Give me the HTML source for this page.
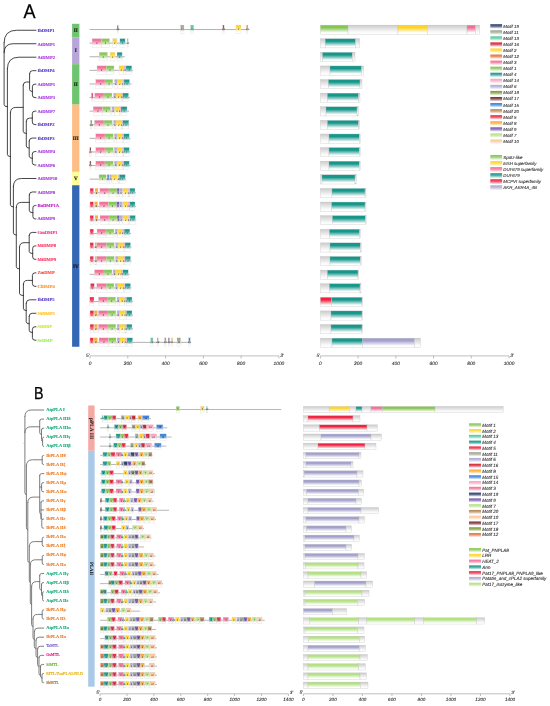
<!DOCTYPE html>
<html lang="en">
<head>
<meta charset="utf-8">
<title>Figure: phylogeny, motifs and conserved domains</title>
<style>
html,body{margin:0;padding:0;background:#ffffff;}
body{width:550px;height:706px;overflow:hidden;font-family:"Liberation Sans",sans-serif;}
svg{display:block;text-rendering:geometricPrecision;}
.b{stroke:#d4d4d4;stroke-width:0.3;}
.n{font:italic 2.7px "Liberation Sans",sans-serif;fill:#222;text-anchor:middle;}
.nb{font:italic 2.2px "Liberation Sans",sans-serif;fill:#111;text-anchor:middle;}
.ax text{font-family:"Liberation Sans",sans-serif;font-style:italic;fill:#222;stroke:#222;stroke-width:0.08px;}
</style>
</head>
<body>
<svg width="550" height="706" viewBox="0 0 550 706">
<defs>
<linearGradient id="m1" x1="0" y1="0" x2="0" y2="1"><stop offset="0" stop-color="#86c653"/><stop offset="0.22" stop-color="#8bc85a"/><stop offset="0.55" stop-color="#c9e5b2"/><stop offset="0.78" stop-color="#ffffff"/><stop offset="1" stop-color="#ffffff"/></linearGradient>
<linearGradient id="n1" x1="0" y1="0" x2="0" y2="1"><stop offset="0" stop-color="#86c653"/><stop offset="0.3" stop-color="#90cb61"/><stop offset="0.6" stop-color="#c2e2a9"/><stop offset="0.8" stop-color="#ffffff"/><stop offset="1" stop-color="#ffffff"/></linearGradient>
<linearGradient id="l1" x1="0" y1="0" x2="0" y2="1"><stop offset="0" stop-color="#86c653"/><stop offset="0.45" stop-color="#a4d47e"/><stop offset="1" stop-color="#ffffff"/></linearGradient>
<linearGradient id="m2" x1="0" y1="0" x2="0" y2="1"><stop offset="0" stop-color="#ffd426"/><stop offset="0.22" stop-color="#ffd62f"/><stop offset="0.55" stop-color="#ffec9d"/><stop offset="0.78" stop-color="#ffffff"/><stop offset="1" stop-color="#ffffff"/></linearGradient>
<linearGradient id="n2" x1="0" y1="0" x2="0" y2="1"><stop offset="0" stop-color="#ffd426"/><stop offset="0.3" stop-color="#ffd737"/><stop offset="0.6" stop-color="#ffea92"/><stop offset="0.8" stop-color="#ffffff"/><stop offset="1" stop-color="#ffffff"/></linearGradient>
<linearGradient id="l2" x1="0" y1="0" x2="0" y2="1"><stop offset="0" stop-color="#ffd426"/><stop offset="0.45" stop-color="#ffdf5c"/><stop offset="1" stop-color="#ffffff"/></linearGradient>
<linearGradient id="m3" x1="0" y1="0" x2="0" y2="1"><stop offset="0" stop-color="#f26f97"/><stop offset="0.22" stop-color="#f3759b"/><stop offset="0.55" stop-color="#f9bed0"/><stop offset="0.78" stop-color="#ffffff"/><stop offset="1" stop-color="#ffffff"/></linearGradient>
<linearGradient id="n3" x1="0" y1="0" x2="0" y2="1"><stop offset="0" stop-color="#f26f97"/><stop offset="0.3" stop-color="#f37b9f"/><stop offset="0.6" stop-color="#f8b7cb"/><stop offset="0.8" stop-color="#ffffff"/><stop offset="1" stop-color="#ffffff"/></linearGradient>
<linearGradient id="l3" x1="0" y1="0" x2="0" y2="1"><stop offset="0" stop-color="#f26f97"/><stop offset="0.45" stop-color="#f593b1"/><stop offset="1" stop-color="#ffffff"/></linearGradient>
<linearGradient id="m4" x1="0" y1="0" x2="0" y2="1"><stop offset="0" stop-color="#17968a"/><stop offset="0.22" stop-color="#209a8f"/><stop offset="0.55" stop-color="#97d0ca"/><stop offset="0.78" stop-color="#ffffff"/><stop offset="1" stop-color="#ffffff"/></linearGradient>
<linearGradient id="n4" x1="0" y1="0" x2="0" y2="1"><stop offset="0" stop-color="#17968a"/><stop offset="0.3" stop-color="#2a9e93"/><stop offset="0.6" stop-color="#8bcac4"/><stop offset="0.8" stop-color="#ffffff"/><stop offset="1" stop-color="#ffffff"/></linearGradient>
<linearGradient id="l4" x1="0" y1="0" x2="0" y2="1"><stop offset="0" stop-color="#17968a"/><stop offset="0.45" stop-color="#51b0a7"/><stop offset="1" stop-color="#ffffff"/></linearGradient>
<linearGradient id="m5" x1="0" y1="0" x2="0" y2="1"><stop offset="0" stop-color="#ee2440"/><stop offset="0.22" stop-color="#ef2d48"/><stop offset="0.55" stop-color="#f79ca9"/><stop offset="0.78" stop-color="#ffffff"/><stop offset="1" stop-color="#ffffff"/></linearGradient>
<linearGradient id="n5" x1="0" y1="0" x2="0" y2="1"><stop offset="0" stop-color="#ee2440"/><stop offset="0.3" stop-color="#ef364f"/><stop offset="0.6" stop-color="#f692a0"/><stop offset="0.8" stop-color="#ffffff"/><stop offset="1" stop-color="#ffffff"/></linearGradient>
<linearGradient id="l5" x1="0" y1="0" x2="0" y2="1"><stop offset="0" stop-color="#ee2440"/><stop offset="0.45" stop-color="#f25b70"/><stop offset="1" stop-color="#ffffff"/></linearGradient>
<linearGradient id="m6" x1="0" y1="0" x2="0" y2="1"><stop offset="0" stop-color="#aeaad2"/><stop offset="0.22" stop-color="#b1add4"/><stop offset="0.55" stop-color="#dbd9eb"/><stop offset="0.78" stop-color="#ffffff"/><stop offset="1" stop-color="#ffffff"/></linearGradient>
<linearGradient id="n6" x1="0" y1="0" x2="0" y2="1"><stop offset="0" stop-color="#aeaad2"/><stop offset="0.3" stop-color="#b4b1d6"/><stop offset="0.6" stop-color="#d6d4e8"/><stop offset="0.8" stop-color="#ffffff"/><stop offset="1" stop-color="#ffffff"/></linearGradient>
<linearGradient id="l6" x1="0" y1="0" x2="0" y2="1"><stop offset="0" stop-color="#aeaad2"/><stop offset="0.45" stop-color="#c2bfdd"/><stop offset="1" stop-color="#ffffff"/></linearGradient>
<linearGradient id="m7" x1="0" y1="0" x2="0" y2="1"><stop offset="0" stop-color="#b4e184"/><stop offset="0.22" stop-color="#b7e289"/><stop offset="0.55" stop-color="#ddf2c8"/><stop offset="0.78" stop-color="#ffffff"/><stop offset="1" stop-color="#ffffff"/></linearGradient>
<linearGradient id="n7" x1="0" y1="0" x2="0" y2="1"><stop offset="0" stop-color="#b4e184"/><stop offset="0.3" stop-color="#bae38e"/><stop offset="0.6" stop-color="#daf0c2"/><stop offset="0.8" stop-color="#ffffff"/><stop offset="1" stop-color="#ffffff"/></linearGradient>
<linearGradient id="l7" x1="0" y1="0" x2="0" y2="1"><stop offset="0" stop-color="#b4e184"/><stop offset="0.45" stop-color="#c7e8a3"/><stop offset="1" stop-color="#ffffff"/></linearGradient>
<linearGradient id="m8" x1="0" y1="0" x2="0" y2="1"><stop offset="0" stop-color="#fba930"/><stop offset="0.22" stop-color="#fbac38"/><stop offset="0.55" stop-color="#fdd8a2"/><stop offset="0.78" stop-color="#ffffff"/><stop offset="1" stop-color="#ffffff"/></linearGradient>
<linearGradient id="n8" x1="0" y1="0" x2="0" y2="1"><stop offset="0" stop-color="#fba930"/><stop offset="0.3" stop-color="#fbb041"/><stop offset="0.6" stop-color="#fdd498"/><stop offset="0.8" stop-color="#ffffff"/><stop offset="1" stop-color="#ffffff"/></linearGradient>
<linearGradient id="l8" x1="0" y1="0" x2="0" y2="1"><stop offset="0" stop-color="#fba930"/><stop offset="0.45" stop-color="#fcbe64"/><stop offset="1" stop-color="#ffffff"/></linearGradient>
<linearGradient id="m9" x1="0" y1="0" x2="0" y2="1"><stop offset="0" stop-color="#7557b3"/><stop offset="0.22" stop-color="#7b5eb6"/><stop offset="0.55" stop-color="#c1b3dd"/><stop offset="0.78" stop-color="#ffffff"/><stop offset="1" stop-color="#ffffff"/></linearGradient>
<linearGradient id="n9" x1="0" y1="0" x2="0" y2="1"><stop offset="0" stop-color="#7557b3"/><stop offset="0.3" stop-color="#8064b9"/><stop offset="0.6" stop-color="#baabd9"/><stop offset="0.8" stop-color="#ffffff"/><stop offset="1" stop-color="#ffffff"/></linearGradient>
<linearGradient id="l9" x1="0" y1="0" x2="0" y2="1"><stop offset="0" stop-color="#7557b3"/><stop offset="0.45" stop-color="#9881c6"/><stop offset="1" stop-color="#ffffff"/></linearGradient>
<linearGradient id="m10" x1="0" y1="0" x2="0" y2="1"><stop offset="0" stop-color="#fdc59a"/><stop offset="0.22" stop-color="#fdc79e"/><stop offset="0.55" stop-color="#fee5d2"/><stop offset="0.78" stop-color="#ffffff"/><stop offset="1" stop-color="#ffffff"/></linearGradient>
<linearGradient id="n10" x1="0" y1="0" x2="0" y2="1"><stop offset="0" stop-color="#fdc59a"/><stop offset="0.3" stop-color="#fdcaa2"/><stop offset="0.6" stop-color="#fee2cc"/><stop offset="0.8" stop-color="#ffffff"/><stop offset="1" stop-color="#ffffff"/></linearGradient>
<linearGradient id="l10" x1="0" y1="0" x2="0" y2="1"><stop offset="0" stop-color="#fdc59a"/><stop offset="0.45" stop-color="#fed4b3"/><stop offset="1" stop-color="#ffffff"/></linearGradient>
<linearGradient id="m11" x1="0" y1="0" x2="0" y2="1"><stop offset="0" stop-color="#9ba58c"/><stop offset="0.22" stop-color="#9fa991"/><stop offset="0.55" stop-color="#d2d6cb"/><stop offset="0.78" stop-color="#ffffff"/><stop offset="1" stop-color="#ffffff"/></linearGradient>
<linearGradient id="n11" x1="0" y1="0" x2="0" y2="1"><stop offset="0" stop-color="#9ba58c"/><stop offset="0.3" stop-color="#a3ac95"/><stop offset="0.6" stop-color="#cdd2c6"/><stop offset="0.8" stop-color="#ffffff"/><stop offset="1" stop-color="#ffffff"/></linearGradient>
<linearGradient id="l11" x1="0" y1="0" x2="0" y2="1"><stop offset="0" stop-color="#9ba58c"/><stop offset="0.45" stop-color="#b4bca9"/><stop offset="1" stop-color="#ffffff"/></linearGradient>
<linearGradient id="m12" x1="0" y1="0" x2="0" y2="1"><stop offset="0" stop-color="#df7440"/><stop offset="0.22" stop-color="#e07a48"/><stop offset="0.55" stop-color="#f1c0a9"/><stop offset="0.78" stop-color="#ffffff"/><stop offset="1" stop-color="#ffffff"/></linearGradient>
<linearGradient id="n12" x1="0" y1="0" x2="0" y2="1"><stop offset="0" stop-color="#df7440"/><stop offset="0.3" stop-color="#e27f4f"/><stop offset="0.6" stop-color="#efbaa0"/><stop offset="0.8" stop-color="#ffffff"/><stop offset="1" stop-color="#ffffff"/></linearGradient>
<linearGradient id="l12" x1="0" y1="0" x2="0" y2="1"><stop offset="0" stop-color="#df7440"/><stop offset="0.45" stop-color="#e79770"/><stop offset="1" stop-color="#ffffff"/></linearGradient>
<linearGradient id="m13" x1="0" y1="0" x2="0" y2="1"><stop offset="0" stop-color="#55c79c"/><stop offset="0.22" stop-color="#5cc9a0"/><stop offset="0.55" stop-color="#b2e6d2"/><stop offset="0.78" stop-color="#ffffff"/><stop offset="1" stop-color="#ffffff"/></linearGradient>
<linearGradient id="n13" x1="0" y1="0" x2="0" y2="1"><stop offset="0" stop-color="#55c79c"/><stop offset="0.3" stop-color="#63cba4"/><stop offset="0.6" stop-color="#aae3ce"/><stop offset="0.8" stop-color="#ffffff"/><stop offset="1" stop-color="#ffffff"/></linearGradient>
<linearGradient id="l13" x1="0" y1="0" x2="0" y2="1"><stop offset="0" stop-color="#55c79c"/><stop offset="0.45" stop-color="#80d5b5"/><stop offset="1" stop-color="#ffffff"/></linearGradient>
<linearGradient id="m14" x1="0" y1="0" x2="0" y2="1"><stop offset="0" stop-color="#f8a3bd"/><stop offset="0.22" stop-color="#f8a7c0"/><stop offset="0.55" stop-color="#fcd6e1"/><stop offset="0.78" stop-color="#ffffff"/><stop offset="1" stop-color="#ffffff"/></linearGradient>
<linearGradient id="n14" x1="0" y1="0" x2="0" y2="1"><stop offset="0" stop-color="#f8a3bd"/><stop offset="0.3" stop-color="#f9aac2"/><stop offset="0.6" stop-color="#fcd1de"/><stop offset="0.8" stop-color="#ffffff"/><stop offset="1" stop-color="#ffffff"/></linearGradient>
<linearGradient id="l14" x1="0" y1="0" x2="0" y2="1"><stop offset="0" stop-color="#f8a3bd"/><stop offset="0.45" stop-color="#fabace"/><stop offset="1" stop-color="#ffffff"/></linearGradient>
<linearGradient id="m15" x1="0" y1="0" x2="0" y2="1"><stop offset="0" stop-color="#3580dc"/><stop offset="0.22" stop-color="#3d85dd"/><stop offset="0.55" stop-color="#a4c6ef"/><stop offset="0.78" stop-color="#ffffff"/><stop offset="1" stop-color="#ffffff"/></linearGradient>
<linearGradient id="n15" x1="0" y1="0" x2="0" y2="1"><stop offset="0" stop-color="#3580dc"/><stop offset="0.3" stop-color="#458adf"/><stop offset="0.6" stop-color="#9ac0ee"/><stop offset="0.8" stop-color="#ffffff"/><stop offset="1" stop-color="#ffffff"/></linearGradient>
<linearGradient id="l15" x1="0" y1="0" x2="0" y2="1"><stop offset="0" stop-color="#3580dc"/><stop offset="0.45" stop-color="#68a0e5"/><stop offset="1" stop-color="#ffffff"/></linearGradient>
<linearGradient id="m16" x1="0" y1="0" x2="0" y2="1"><stop offset="0" stop-color="#d4202f"/><stop offset="0.22" stop-color="#d62937"/><stop offset="0.55" stop-color="#ec9ba1"/><stop offset="0.78" stop-color="#ffffff"/><stop offset="1" stop-color="#ffffff"/></linearGradient>
<linearGradient id="n16" x1="0" y1="0" x2="0" y2="1"><stop offset="0" stop-color="#d4202f"/><stop offset="0.3" stop-color="#d73240"/><stop offset="0.6" stop-color="#ea9097"/><stop offset="0.8" stop-color="#ffffff"/><stop offset="1" stop-color="#ffffff"/></linearGradient>
<linearGradient id="l16" x1="0" y1="0" x2="0" y2="1"><stop offset="0" stop-color="#d4202f"/><stop offset="0.45" stop-color="#df5863"/><stop offset="1" stop-color="#ffffff"/></linearGradient>
<linearGradient id="m17" x1="0" y1="0" x2="0" y2="1"><stop offset="0" stop-color="#742c2c"/><stop offset="0.22" stop-color="#7a3434"/><stop offset="0.55" stop-color="#c0a0a0"/><stop offset="0.78" stop-color="#ffffff"/><stop offset="1" stop-color="#ffffff"/></linearGradient>
<linearGradient id="n17" x1="0" y1="0" x2="0" y2="1"><stop offset="0" stop-color="#742c2c"/><stop offset="0.3" stop-color="#7f3d3d"/><stop offset="0.6" stop-color="#ba9696"/><stop offset="0.8" stop-color="#ffffff"/><stop offset="1" stop-color="#ffffff"/></linearGradient>
<linearGradient id="l17" x1="0" y1="0" x2="0" y2="1"><stop offset="0" stop-color="#742c2c"/><stop offset="0.45" stop-color="#976161"/><stop offset="1" stop-color="#ffffff"/></linearGradient>
<linearGradient id="m18" x1="0" y1="0" x2="0" y2="1"><stop offset="0" stop-color="#7a9a34"/><stop offset="0.22" stop-color="#7f9e3c"/><stop offset="0.55" stop-color="#c3d2a4"/><stop offset="0.78" stop-color="#ffffff"/><stop offset="1" stop-color="#ffffff"/></linearGradient>
<linearGradient id="n18" x1="0" y1="0" x2="0" y2="1"><stop offset="0" stop-color="#7a9a34"/><stop offset="0.3" stop-color="#85a244"/><stop offset="0.6" stop-color="#bccc9a"/><stop offset="0.8" stop-color="#ffffff"/><stop offset="1" stop-color="#ffffff"/></linearGradient>
<linearGradient id="l18" x1="0" y1="0" x2="0" y2="1"><stop offset="0" stop-color="#7a9a34"/><stop offset="0.45" stop-color="#9bb367"/><stop offset="1" stop-color="#ffffff"/></linearGradient>
<linearGradient id="m19" x1="0" y1="0" x2="0" y2="1"><stop offset="0" stop-color="#2b3a6b"/><stop offset="0.22" stop-color="#334271"/><stop offset="0.55" stop-color="#a0a6bc"/><stop offset="0.78" stop-color="#ffffff"/><stop offset="1" stop-color="#ffffff"/></linearGradient>
<linearGradient id="n19" x1="0" y1="0" x2="0" y2="1"><stop offset="0" stop-color="#2b3a6b"/><stop offset="0.3" stop-color="#3c4a77"/><stop offset="0.6" stop-color="#959cb5"/><stop offset="0.8" stop-color="#ffffff"/><stop offset="1" stop-color="#ffffff"/></linearGradient>
<linearGradient id="l19" x1="0" y1="0" x2="0" y2="1"><stop offset="0" stop-color="#2b3a6b"/><stop offset="0.45" stop-color="#606b90"/><stop offset="1" stop-color="#ffffff"/></linearGradient>
<linearGradient id="m20" x1="0" y1="0" x2="0" y2="1"><stop offset="0" stop-color="#b78758"/><stop offset="0.22" stop-color="#ba8c5f"/><stop offset="0.55" stop-color="#dfc9b4"/><stop offset="0.78" stop-color="#ffffff"/><stop offset="1" stop-color="#ffffff"/></linearGradient>
<linearGradient id="n20" x1="0" y1="0" x2="0" y2="1"><stop offset="0" stop-color="#b78758"/><stop offset="0.3" stop-color="#bd9165"/><stop offset="0.6" stop-color="#dbc3ac"/><stop offset="0.8" stop-color="#ffffff"/><stop offset="1" stop-color="#ffffff"/></linearGradient>
<linearGradient id="l20" x1="0" y1="0" x2="0" y2="1"><stop offset="0" stop-color="#b78758"/><stop offset="0.45" stop-color="#c9a582"/><stop offset="1" stop-color="#ffffff"/></linearGradient>
<linearGradient id="dgreen" x1="0" y1="0" x2="0" y2="1"><stop offset="0" stop-color="#86c653"/><stop offset="0.28" stop-color="#86c653"/><stop offset="0.84" stop-color="#ffffff"/><stop offset="1" stop-color="#ffffff"/></linearGradient>
<linearGradient id="dyellow" x1="0" y1="0" x2="0" y2="1"><stop offset="0" stop-color="#ffd426"/><stop offset="0.28" stop-color="#ffd426"/><stop offset="0.84" stop-color="#ffffff"/><stop offset="1" stop-color="#ffffff"/></linearGradient>
<linearGradient id="dpink" x1="0" y1="0" x2="0" y2="1"><stop offset="0" stop-color="#f26f97"/><stop offset="0.28" stop-color="#f26f97"/><stop offset="0.84" stop-color="#ffffff"/><stop offset="1" stop-color="#ffffff"/></linearGradient>
<linearGradient id="dteal" x1="0" y1="0" x2="0" y2="1"><stop offset="0" stop-color="#17968a"/><stop offset="0.28" stop-color="#17968a"/><stop offset="0.84" stop-color="#ffffff"/><stop offset="1" stop-color="#ffffff"/></linearGradient>
<linearGradient id="dred" x1="0" y1="0" x2="0" y2="1"><stop offset="0" stop-color="#ee2440"/><stop offset="0.28" stop-color="#ee2440"/><stop offset="0.84" stop-color="#ffffff"/><stop offset="1" stop-color="#ffffff"/></linearGradient>
<linearGradient id="dlav" x1="0" y1="0" x2="0" y2="1"><stop offset="0" stop-color="#a3a0cb"/><stop offset="0.28" stop-color="#a3a0cb"/><stop offset="0.84" stop-color="#ffffff"/><stop offset="1" stop-color="#ffffff"/></linearGradient>
<linearGradient id="dlgreen" x1="0" y1="0" x2="0" y2="1"><stop offset="0" stop-color="#b4e184"/><stop offset="0.28" stop-color="#b4e184"/><stop offset="0.84" stop-color="#ffffff"/><stop offset="1" stop-color="#ffffff"/></linearGradient>
<linearGradient id="dgray" x1="0" y1="0" x2="0" y2="1"><stop offset="0" stop-color="#cbcbcb"/><stop offset="0.75" stop-color="#fafafa"/><stop offset="1" stop-color="#ffffff"/></linearGradient>
</defs>
<rect x="0" y="0" width="550" height="706" fill="#ffffff"/>
<g id="panelA">
<text x="23.5" y="17.75" font-size="19.6" fill="#000" stroke="#000" stroke-width="0.3" transform="translate(23.5 0) scale(0.92 1) translate(-23.5 0)" font-family="'Liberation Sans',sans-serif">A</text>
<path d="M36,30.25 H16.6 Q4.1,30.25 4.1,42.75" fill="none" stroke="#262626" stroke-width="0.85" stroke-linecap="round" stroke-linejoin="round"/>
<path d="M36,43.73 H13.1 Q4.1,43.73 4.1,52.73" fill="none" stroke="#262626" stroke-width="0.85" stroke-linecap="round" stroke-linejoin="round"/>
<path d="M4.1,42.75 V104.6 Q4.1,106.7 7.4,106.8" fill="none" stroke="#262626" stroke-width="0.85" stroke-linecap="round" stroke-linejoin="round"/>
<path d="M36,57.21 H18.9 Q7.4,57.21 7.4,68.71" fill="none" stroke="#262626" stroke-width="0.85" stroke-linecap="round" stroke-linejoin="round"/>
<path d="M7.4,68.71 V154.4 Q7.4,156.5 10.4,156.6" fill="none" stroke="#262626" stroke-width="0.85" stroke-linecap="round" stroke-linejoin="round"/>
<path d="M23.2,107.4 H15.9 Q10.4,107.4 10.4,112.9" fill="none" stroke="#262626" stroke-width="0.85" stroke-linecap="round" stroke-linejoin="round"/>
<path d="M10.4,112.9 V204.8 Q10.4,206.9 13.4,207" fill="none" stroke="#262626" stroke-width="0.85" stroke-linecap="round" stroke-linejoin="round"/>
<path d="M29.6,82 H26.4 Q23.2,82 23.2,85.2" fill="none" stroke="#262626" stroke-width="0.85" stroke-linecap="round" stroke-linejoin="round"/>
<path d="M23.2,85.2 V131.3 Q23.2,133.4 26.3,133.5" fill="none" stroke="#262626" stroke-width="0.85" stroke-linecap="round" stroke-linejoin="round"/>
<path d="M36,70.68 H32.6 Q29.6,70.68 29.6,73.68" fill="none" stroke="#262626" stroke-width="0.85" stroke-linecap="round" stroke-linejoin="round"/>
<path d="M29.6,73.68 V89.4 Q29.6,91.5 32.4,91.6" fill="none" stroke="#262626" stroke-width="0.85" stroke-linecap="round" stroke-linejoin="round"/>
<path d="M36,84.16 H35 Q32.4,84.16 32.4,86.76 V95.04 Q32.4,97.64 35,97.64 H36" fill="none" stroke="#262626" stroke-width="0.85" stroke-linecap="round" stroke-linejoin="round"/>
<path d="M32.3,118.1 H29.5 Q26.3,118.1 26.3,121.3" fill="none" stroke="#262626" stroke-width="0.85" stroke-linecap="round" stroke-linejoin="round"/>
<path d="M26.3,121.3 V146 Q26.3,148.1 29.2,148.2" fill="none" stroke="#262626" stroke-width="0.85" stroke-linecap="round" stroke-linejoin="round"/>
<path d="M36,111.12 H34.9 Q32.3,111.12 32.3,113.72 V122 Q32.3,124.6 34.9,124.6 H36" fill="none" stroke="#262626" stroke-width="0.85" stroke-linecap="round" stroke-linejoin="round"/>
<path d="M36,138.07 H32.2 Q29.2,138.07 29.2,141.07" fill="none" stroke="#262626" stroke-width="0.85" stroke-linecap="round" stroke-linejoin="round"/>
<path d="M29.2,141.07 V156.2 Q29.2,158.3 32.3,158.4" fill="none" stroke="#262626" stroke-width="0.85" stroke-linecap="round" stroke-linejoin="round"/>
<path d="M36,151.55 H34.9 Q32.3,151.55 32.3,154.15 V162.43 Q32.3,165.03 34.9,165.03 H36" fill="none" stroke="#262626" stroke-width="0.85" stroke-linecap="round" stroke-linejoin="round"/>
<path d="M36,178.51 H21.4 Q13.4,178.51 13.4,186.51" fill="none" stroke="#262626" stroke-width="0.85" stroke-linecap="round" stroke-linejoin="round"/>
<path d="M13.4,186.51 V232.9 Q13.4,235 16.3,235.1" fill="none" stroke="#262626" stroke-width="0.85" stroke-linecap="round" stroke-linejoin="round"/>
<path d="M29.3,202.4 H21.3 Q16.3,202.4 16.3,207.4" fill="none" stroke="#262626" stroke-width="0.85" stroke-linecap="round" stroke-linejoin="round"/>
<path d="M16.3,207.4 V266.8 Q16.3,268.9 19.5,269" fill="none" stroke="#262626" stroke-width="0.85" stroke-linecap="round" stroke-linejoin="round"/>
<path d="M36,191.99 H32.3 Q29.3,191.99 29.3,194.99" fill="none" stroke="#262626" stroke-width="0.85" stroke-linecap="round" stroke-linejoin="round"/>
<path d="M29.3,194.99 V210.6 Q29.3,212.7 32.9,212.8" fill="none" stroke="#262626" stroke-width="0.85" stroke-linecap="round" stroke-linejoin="round"/>
<path d="M36,205.46 H35.3 Q32.9,205.46 32.9,207.86 V216.54 Q32.9,218.94 35.3,218.94 H36" fill="none" stroke="#262626" stroke-width="0.85" stroke-linecap="round" stroke-linejoin="round"/>
<path d="M29.2,242.7 H24 Q19.5,242.7 19.5,247.2" fill="none" stroke="#262626" stroke-width="0.85" stroke-linecap="round" stroke-linejoin="round"/>
<path d="M19.5,247.2 V293.4 Q19.5,295.5 23.4,295.6" fill="none" stroke="#262626" stroke-width="0.85" stroke-linecap="round" stroke-linejoin="round"/>
<path d="M36,232.42 H32.2 Q29.2,232.42 29.2,235.42" fill="none" stroke="#262626" stroke-width="0.85" stroke-linecap="round" stroke-linejoin="round"/>
<path d="M29.2,235.42 V251.4 Q29.2,253.5 32.7,253.6" fill="none" stroke="#262626" stroke-width="0.85" stroke-linecap="round" stroke-linejoin="round"/>
<path d="M36,245.9 H35.1 Q32.7,245.9 32.7,248.3 V256.98 Q32.7,259.38 35.1,259.38 H36" fill="none" stroke="#262626" stroke-width="0.85" stroke-linecap="round" stroke-linejoin="round"/>
<path d="M32.4,280.4 H27.4 Q23.4,280.4 23.4,284.4" fill="none" stroke="#262626" stroke-width="0.85" stroke-linecap="round" stroke-linejoin="round"/>
<path d="M23.4,284.4 V308.4 Q23.4,310.5 26.2,310.6" fill="none" stroke="#262626" stroke-width="0.85" stroke-linecap="round" stroke-linejoin="round"/>
<path d="M36,272.85 H35 Q32.4,272.85 32.4,275.45 V283.73 Q32.4,286.33 35,286.33 H36" fill="none" stroke="#262626" stroke-width="0.85" stroke-linecap="round" stroke-linejoin="round"/>
<path d="M36,299.81 H29.7 Q26.2,299.81 26.2,303.31" fill="none" stroke="#262626" stroke-width="0.85" stroke-linecap="round" stroke-linejoin="round"/>
<path d="M26.2,303.31 V321.7 Q26.2,323.8 29.2,323.9" fill="none" stroke="#262626" stroke-width="0.85" stroke-linecap="round" stroke-linejoin="round"/>
<path d="M36,313.29 H32.2 Q29.2,313.29 29.2,316.29" fill="none" stroke="#262626" stroke-width="0.85" stroke-linecap="round" stroke-linejoin="round"/>
<path d="M29.2,316.29 V330.4 Q29.2,332.5 32.4,332.6" fill="none" stroke="#262626" stroke-width="0.85" stroke-linecap="round" stroke-linejoin="round"/>
<path d="M36,326.77 H35 Q32.4,326.77 32.4,329.37 V337.64 Q32.4,340.24 35,340.24 H36" fill="none" stroke="#262626" stroke-width="0.85" stroke-linecap="round" stroke-linejoin="round"/>
<text x="37.4" y="32.05" font-size="4.6" font-weight="bold" fill="#5b3cc4" stroke="#5b3cc4" stroke-width="0.12" font-family="'Liberation Serif',serif">IbDMP1</text>
<text x="37.4" y="45.5" font-size="4.6" font-weight="bold" fill="#a43ad6" stroke="#a43ad6" stroke-width="0.12" font-family="'Liberation Serif',serif">AtDMP1</text>
<text x="37.4" y="58.96" font-size="4.6" font-weight="bold" fill="#a43ad6" stroke="#a43ad6" stroke-width="0.12" font-family="'Liberation Serif',serif">AtDMP2</text>
<text x="37.4" y="72.42" font-size="4.6" font-weight="bold" fill="#5b3cc4" stroke="#5b3cc4" stroke-width="0.12" font-family="'Liberation Serif',serif">IbDMP4</text>
<text x="37.4" y="85.87" font-size="4.6" font-weight="bold" fill="#a43ad6" stroke="#a43ad6" stroke-width="0.12" font-family="'Liberation Serif',serif">AtDMP5</text>
<text x="37.4" y="99.33" font-size="4.6" font-weight="bold" fill="#a43ad6" stroke="#a43ad6" stroke-width="0.12" font-family="'Liberation Serif',serif">AtDMP3</text>
<text x="37.4" y="112.78" font-size="4.6" font-weight="bold" fill="#a43ad6" stroke="#a43ad6" stroke-width="0.12" font-family="'Liberation Serif',serif">AtDMP7</text>
<text x="37.4" y="126.23" font-size="4.6" font-weight="bold" fill="#5b3cc4" stroke="#5b3cc4" stroke-width="0.12" font-family="'Liberation Serif',serif">IbDMP2</text>
<text x="37.4" y="139.69" font-size="4.6" font-weight="bold" fill="#5b3cc4" stroke="#5b3cc4" stroke-width="0.12" font-family="'Liberation Serif',serif">IbDMP3</text>
<text x="37.4" y="153.15" font-size="4.6" font-weight="bold" fill="#a43ad6" stroke="#a43ad6" stroke-width="0.12" font-family="'Liberation Serif',serif">AtDMP4</text>
<text x="37.4" y="166.6" font-size="4.6" font-weight="bold" fill="#a43ad6" stroke="#a43ad6" stroke-width="0.12" font-family="'Liberation Serif',serif">AtDMP6</text>
<text x="37.4" y="180.06" font-size="4.6" font-weight="bold" fill="#a43ad6" stroke="#a43ad6" stroke-width="0.12" font-family="'Liberation Serif',serif">AtDMP10</text>
<text x="37.4" y="193.51" font-size="4.6" font-weight="bold" fill="#a43ad6" stroke="#a43ad6" stroke-width="0.12" font-family="'Liberation Serif',serif">AtDMP8</text>
<text x="37.4" y="206.97" font-size="4.6" font-weight="bold" fill="#c01fc0" stroke="#c01fc0" stroke-width="0.12" font-family="'Liberation Serif',serif">BnDMP1A</text>
<text x="37.4" y="220.42" font-size="4.6" font-weight="bold" fill="#a43ad6" stroke="#a43ad6" stroke-width="0.12" font-family="'Liberation Serif',serif">AtDMP9</text>
<text x="37.4" y="233.88" font-size="4.6" font-weight="bold" fill="#ff2f92" stroke="#ff2f92" stroke-width="0.12" font-family="'Liberation Serif',serif">GmDMP1</text>
<text x="37.4" y="247.33" font-size="4.6" font-weight="bold" fill="#ff3060" stroke="#ff3060" stroke-width="0.12" font-family="'Liberation Serif',serif">MtDMP8</text>
<text x="37.4" y="260.79" font-size="4.6" font-weight="bold" fill="#ff3060" stroke="#ff3060" stroke-width="0.12" font-family="'Liberation Serif',serif">MtDMP9</text>
<text x="37.4" y="274.24" font-size="4.6" font-weight="bold" fill="#ff4a3c" stroke="#ff4a3c" stroke-width="0.12" font-family="'Liberation Serif',serif">ZmDMP</text>
<text x="37.4" y="287.69" font-size="4.6" font-weight="bold" fill="#ff962e" stroke="#ff962e" stroke-width="0.12" font-family="'Liberation Serif',serif">ClDMP4</text>
<text x="37.4" y="301.15" font-size="4.6" font-weight="bold" fill="#5b3cc4" stroke="#5b3cc4" stroke-width="0.12" font-family="'Liberation Serif',serif">IbDMP5</text>
<text x="37.4" y="314.61" font-size="4.6" font-weight="bold" fill="#ffc02a" stroke="#ffc02a" stroke-width="0.12" font-family="'Liberation Serif',serif">NtDMP1</text>
<text x="37.4" y="328.06" font-size="4.6" font-weight="bold" fill="#cfe83c" stroke="#cfe83c" stroke-width="0.12" font-family="'Liberation Serif',serif">StDMP</text>
<text x="37.4" y="341.51" font-size="4.6" font-weight="bold" fill="#9af04e" stroke="#9af04e" stroke-width="0.12" font-family="'Liberation Serif',serif">SrDMP</text>
<rect x="72.1" y="23.8" width="7.3" height="13.51" fill="#6fc56f"/>
<text x="75.75" y="32.23" font-size="5.1" font-weight="bold" text-anchor="middle" fill="#111" stroke="#111" stroke-width="0.12" font-family="'Liberation Serif',serif">II</text>
<rect x="72.1" y="37.26" width="7.3" height="26.96" fill="#b9a6d9"/>
<text x="75.75" y="52.41" font-size="5.1" font-weight="bold" text-anchor="middle" fill="#111" stroke="#111" stroke-width="0.12" font-family="'Liberation Serif',serif">I</text>
<rect x="72.1" y="64.17" width="7.3" height="40.41" fill="#6fc56f"/>
<text x="75.75" y="86.05" font-size="5.1" font-weight="bold" text-anchor="middle" fill="#111" stroke="#111" stroke-width="0.12" font-family="'Liberation Serif',serif">II</text>
<rect x="72.1" y="104.53" width="7.3" height="67.33" fill="#fdbe85"/>
<text x="75.75" y="139.87" font-size="5.1" font-weight="bold" text-anchor="middle" fill="#111" stroke="#111" stroke-width="0.12" font-family="'Liberation Serif',serif">III</text>
<rect x="72.1" y="171.81" width="7.3" height="13.51" fill="#ffff99"/>
<text x="75.75" y="180.23" font-size="5.1" font-weight="bold" text-anchor="middle" fill="#111" stroke="#111" stroke-width="0.12" font-family="'Liberation Serif',serif">V</text>
<rect x="72.1" y="185.26" width="7.3" height="161.51" fill="#3568b4"/>
<text x="75.75" y="267.69" font-size="5.1" font-weight="bold" text-anchor="middle" fill="#111" stroke="#111" stroke-width="0.12" font-family="'Liberation Serif',serif">IV</text>
<circle cx="82.3" cy="330.5" r="0.35" fill="#999"/>
<line x1="89.6" y1="29.55" x2="249.5" y2="29.55" stroke="#7c7c7c" stroke-width="0.6"/>
<rect class="b" x="117.2" y="25.05" width="1" height="8.7" fill="url(#m19)"/>
<rect class="b" x="180.5" y="25.05" width="3.5" height="8.7" fill="url(#m11)"/>
<rect class="b" x="190.5" y="25.05" width="3.2" height="8.7" fill="url(#m13)"/>
<rect class="b" x="222.8" y="25.05" width="1.3" height="8.7" fill="url(#m16)"/>
<rect class="b" x="236" y="25.05" width="5" height="8.7" fill="url(#m2)"/>
<rect class="b" x="246.5" y="25.05" width="1.4" height="8.7" fill="url(#m12)"/>
<g class="n"><text x="117.7" y="30.45">19</text><text x="182.25" y="30.45">11</text><text x="192.1" y="30.45">13</text><text x="223.45" y="30.45">16</text><text x="238.5" y="30.45">2</text><text x="247.2" y="30.45">12</text></g>
<line x1="89.6" y1="43.15" x2="129.2" y2="43.15" stroke="#7c7c7c" stroke-width="0.6"/>
<rect class="b" x="92.1" y="38.65" width="9.5" height="8.7" fill="url(#m3)"/>
<rect class="b" x="101.6" y="38.65" width="7.9" height="8.7" fill="url(#m1)"/>
<rect class="b" x="112.8" y="38.65" width="4.1" height="8.7" fill="url(#m2)"/>
<rect class="b" x="119.9" y="38.65" width="5.2" height="8.7" fill="url(#m4)"/>
<rect class="b" x="127.2" y="38.65" width="0.9" height="8.7" fill="url(#m3)"/>
<g class="n"><text x="96.85" y="44.05">3</text><text x="105.55" y="44.05">1</text><text x="114.85" y="44.05">2</text><text x="122.5" y="44.05">4</text><text x="127.65" y="44.05">3</text></g>
<line x1="89.6" y1="56.75" x2="124.8" y2="56.75" stroke="#7c7c7c" stroke-width="0.6"/>
<rect class="b" x="99.2" y="52.25" width="8.2" height="8.7" fill="url(#m1)"/>
<rect class="b" x="110.1" y="52.25" width="4.9" height="8.7" fill="url(#m2)"/>
<rect class="b" x="117" y="52.25" width="5.1" height="8.7" fill="url(#m4)"/>
<g class="n"><text x="103.3" y="57.65">1</text><text x="112.55" y="57.65">2</text><text x="119.55" y="57.65">4</text></g>
<line x1="89.6" y1="70.35" x2="133" y2="70.35" stroke="#7c7c7c" stroke-width="0.6"/>
<rect class="b" x="97" y="65.85" width="9.2" height="8.7" fill="url(#m3)"/>
<rect class="b" x="106.2" y="65.85" width="7.8" height="8.7" fill="url(#m1)"/>
<rect class="b" x="119" y="65.85" width="4.5" height="8.7" fill="url(#m2)"/>
<rect class="b" x="123.5" y="65.85" width="2.5" height="8.7" fill="url(#m14)"/>
<rect class="b" x="126" y="65.85" width="5.8" height="8.7" fill="url(#m4)"/>
<g class="n"><text x="101.6" y="71.25">3</text><text x="110.1" y="71.25">1</text><text x="121.25" y="71.25">2</text><text x="124.75" y="71.25">14</text><text x="128.9" y="71.25">4</text></g>
<line x1="89.6" y1="83.95" x2="131.5" y2="83.95" stroke="#7c7c7c" stroke-width="0.6"/>
<rect class="b" x="95.8" y="79.45" width="9.2" height="8.7" fill="url(#m3)"/>
<rect class="b" x="105" y="79.45" width="7.8" height="8.7" fill="url(#m1)"/>
<rect class="b" x="114.5" y="79.45" width="2.7" height="8.7" fill="url(#m6)"/>
<rect class="b" x="117.2" y="79.45" width="5.3" height="8.7" fill="url(#m2)"/>
<rect class="b" x="122.5" y="79.45" width="1.6" height="8.7" fill="url(#m14)"/>
<rect class="b" x="124" y="79.45" width="5.5" height="8.7" fill="url(#m4)"/>
<g class="n"><text x="100.4" y="84.85">3</text><text x="108.9" y="84.85">1</text><text x="115.85" y="84.85">6</text><text x="119.85" y="84.85">2</text><text x="123.3" y="84.85">14</text><text x="126.75" y="84.85">4</text></g>
<line x1="89.6" y1="97.55" x2="130" y2="97.55" stroke="#7c7c7c" stroke-width="0.6"/>
<rect class="b" x="91.5" y="93.05" width="1.5" height="8.7" fill="url(#m5)"/>
<rect class="b" x="94.8" y="93.05" width="9.2" height="8.7" fill="url(#m3)"/>
<rect class="b" x="104" y="93.05" width="8" height="8.7" fill="url(#m1)"/>
<rect class="b" x="113.5" y="93.05" width="2.5" height="8.7" fill="url(#m6)"/>
<rect class="b" x="116" y="93.05" width="5.2" height="8.7" fill="url(#m2)"/>
<rect class="b" x="121.2" y="93.05" width="1.7" height="8.7" fill="url(#m14)"/>
<rect class="b" x="122.8" y="93.05" width="5.7" height="8.7" fill="url(#m4)"/>
<g class="n"><text x="92.25" y="98.45">5</text><text x="99.4" y="98.45">3</text><text x="108" y="98.45">1</text><text x="114.75" y="98.45">6</text><text x="118.6" y="98.45">2</text><text x="122.05" y="98.45">14</text><text x="125.65" y="98.45">4</text></g>
<line x1="89.6" y1="111.15" x2="129" y2="111.15" stroke="#7c7c7c" stroke-width="0.6"/>
<rect class="b" x="93.2" y="106.65" width="9.3" height="8.7" fill="url(#m3)"/>
<rect class="b" x="102.5" y="106.65" width="8" height="8.7" fill="url(#m1)"/>
<rect class="b" x="111.8" y="106.65" width="2.7" height="8.7" fill="url(#m6)"/>
<rect class="b" x="114.5" y="106.65" width="5" height="8.7" fill="url(#m2)"/>
<rect class="b" x="119.5" y="106.65" width="1.5" height="8.7" fill="url(#m14)"/>
<rect class="b" x="121" y="106.65" width="6" height="8.7" fill="url(#m4)"/>
<g class="n"><text x="97.85" y="112.05">3</text><text x="106.5" y="112.05">1</text><text x="113.15" y="112.05">6</text><text x="117" y="112.05">2</text><text x="120.25" y="112.05">14</text><text x="124" y="112.05">4</text></g>
<line x1="89.6" y1="124.75" x2="129.5" y2="124.75" stroke="#7c7c7c" stroke-width="0.6"/>
<rect class="b" x="90.5" y="120.25" width="1.5" height="8.7" fill="url(#m18)"/>
<rect class="b" x="94.5" y="120.25" width="9.5" height="8.7" fill="url(#m3)"/>
<rect class="b" x="104" y="120.25" width="8.2" height="8.7" fill="url(#m1)"/>
<rect class="b" x="113.5" y="120.25" width="2.5" height="8.7" fill="url(#m6)"/>
<rect class="b" x="116" y="120.25" width="5.5" height="8.7" fill="url(#m2)"/>
<rect class="b" x="121.5" y="120.25" width="1.5" height="8.7" fill="url(#m14)"/>
<rect class="b" x="122.8" y="120.25" width="6" height="8.7" fill="url(#m4)"/>
<g class="n"><text x="91.25" y="125.65">18</text><text x="99.25" y="125.65">3</text><text x="108.1" y="125.65">1</text><text x="114.75" y="125.65">6</text><text x="118.75" y="125.65">2</text><text x="122.25" y="125.65">14</text><text x="125.8" y="125.65">4</text></g>
<line x1="89.6" y1="138.35" x2="130.5" y2="138.35" stroke="#7c7c7c" stroke-width="0.6"/>
<rect class="b" x="95.8" y="133.85" width="9.2" height="8.7" fill="url(#m3)"/>
<rect class="b" x="105" y="133.85" width="8.2" height="8.7" fill="url(#m1)"/>
<rect class="b" x="114.3" y="133.85" width="2.7" height="8.7" fill="url(#m6)"/>
<rect class="b" x="117" y="133.85" width="5.2" height="8.7" fill="url(#m2)"/>
<rect class="b" x="122.2" y="133.85" width="1.7" height="8.7" fill="url(#m14)"/>
<rect class="b" x="123.8" y="133.85" width="5.4" height="8.7" fill="url(#m4)"/>
<g class="n"><text x="100.4" y="139.25">3</text><text x="109.1" y="139.25">1</text><text x="115.65" y="139.25">6</text><text x="119.6" y="139.25">2</text><text x="123.05" y="139.25">14</text><text x="126.5" y="139.25">4</text></g>
<line x1="89.6" y1="151.95" x2="130.5" y2="151.95" stroke="#7c7c7c" stroke-width="0.6"/>
<rect class="b" x="89.8" y="147.45" width="1.2" height="8.7" fill="url(#m17)"/>
<rect class="b" x="95.8" y="147.45" width="9.2" height="8.7" fill="url(#m3)"/>
<rect class="b" x="105" y="147.45" width="8.2" height="8.7" fill="url(#m1)"/>
<rect class="b" x="114.3" y="147.45" width="2.7" height="8.7" fill="url(#m6)"/>
<rect class="b" x="117" y="147.45" width="5.2" height="8.7" fill="url(#m2)"/>
<rect class="b" x="122.2" y="147.45" width="1.7" height="8.7" fill="url(#m14)"/>
<rect class="b" x="123.8" y="147.45" width="5.4" height="8.7" fill="url(#m4)"/>
<g class="n"><text x="90.4" y="152.85">17</text><text x="100.4" y="152.85">3</text><text x="109.1" y="152.85">1</text><text x="115.65" y="152.85">6</text><text x="119.6" y="152.85">2</text><text x="123.05" y="152.85">14</text><text x="126.5" y="152.85">4</text></g>
<line x1="89.6" y1="165.55" x2="130.5" y2="165.55" stroke="#7c7c7c" stroke-width="0.6"/>
<rect class="b" x="89.8" y="161.05" width="1.2" height="8.7" fill="url(#m17)"/>
<rect class="b" x="95.8" y="161.05" width="9.2" height="8.7" fill="url(#m3)"/>
<rect class="b" x="105" y="161.05" width="8.2" height="8.7" fill="url(#m1)"/>
<rect class="b" x="114.3" y="161.05" width="2.7" height="8.7" fill="url(#m6)"/>
<rect class="b" x="117" y="161.05" width="5.2" height="8.7" fill="url(#m2)"/>
<rect class="b" x="122.2" y="161.05" width="1.7" height="8.7" fill="url(#m14)"/>
<rect class="b" x="123.8" y="161.05" width="5.4" height="8.7" fill="url(#m4)"/>
<g class="n"><text x="90.4" y="166.45">17</text><text x="100.4" y="166.45">3</text><text x="109.1" y="166.45">1</text><text x="115.65" y="166.45">6</text><text x="119.6" y="166.45">2</text><text x="123.05" y="166.45">14</text><text x="126.5" y="166.45">4</text></g>
<line x1="89.6" y1="179.15" x2="126" y2="179.15" stroke="#7c7c7c" stroke-width="0.6"/>
<rect class="b" x="99" y="174.65" width="7.2" height="8.7" fill="url(#m1)"/>
<rect class="b" x="107.2" y="174.65" width="1.8" height="8.7" fill="url(#m15)"/>
<rect class="b" x="109.5" y="174.65" width="2.3" height="8.7" fill="url(#m6)"/>
<rect class="b" x="112" y="174.65" width="5.2" height="8.7" fill="url(#m2)"/>
<rect class="b" x="118.5" y="174.65" width="1.5" height="8.7" fill="url(#m20)"/>
<rect class="b" x="119.8" y="174.65" width="5.4" height="8.7" fill="url(#m4)"/>
<g class="n"><text x="102.6" y="180.05">1</text><text x="108.1" y="180.05">15</text><text x="110.65" y="180.05">6</text><text x="114.6" y="180.05">2</text><text x="119.25" y="180.05">20</text><text x="122.5" y="180.05">4</text></g>
<line x1="89.6" y1="192.75" x2="136" y2="192.75" stroke="#7c7c7c" stroke-width="0.6"/>
<rect class="b" x="90" y="188.25" width="3.5" height="8.7" fill="url(#m5)"/>
<rect class="b" x="95" y="188.25" width="3" height="8.7" fill="url(#m8)"/>
<rect class="b" x="99.8" y="188.25" width="9.2" height="8.7" fill="url(#m3)"/>
<rect class="b" x="109" y="188.25" width="8" height="8.7" fill="url(#m1)"/>
<rect class="b" x="117" y="188.25" width="2.5" height="8.7" fill="url(#m9)"/>
<rect class="b" x="119.5" y="188.25" width="3" height="8.7" fill="url(#m6)"/>
<rect class="b" x="122.8" y="188.25" width="5.4" height="8.7" fill="url(#m2)"/>
<rect class="b" x="128.2" y="188.25" width="1.5" height="8.7" fill="url(#m14)"/>
<rect class="b" x="129.8" y="188.25" width="5.2" height="8.7" fill="url(#m4)"/>
<g class="n"><text x="91.75" y="193.65">5</text><text x="96.5" y="193.65">8</text><text x="104.4" y="193.65">3</text><text x="113" y="193.65">1</text><text x="118.25" y="193.65">9</text><text x="121" y="193.65">6</text><text x="125.5" y="193.65">2</text><text x="128.95" y="193.65">14</text><text x="132.4" y="193.65">4</text></g>
<line x1="89.6" y1="206.35" x2="136" y2="206.35" stroke="#7c7c7c" stroke-width="0.6"/>
<rect class="b" x="90" y="201.85" width="3.5" height="8.7" fill="url(#m5)"/>
<rect class="b" x="94.5" y="201.85" width="3.3" height="8.7" fill="url(#m8)"/>
<rect class="b" x="99.2" y="201.85" width="9.3" height="8.7" fill="url(#m3)"/>
<rect class="b" x="108.5" y="201.85" width="8" height="8.7" fill="url(#m1)"/>
<rect class="b" x="116.5" y="201.85" width="2.7" height="8.7" fill="url(#m9)"/>
<rect class="b" x="119.2" y="201.85" width="3.3" height="8.7" fill="url(#m6)"/>
<rect class="b" x="123" y="201.85" width="5" height="8.7" fill="url(#m2)"/>
<rect class="b" x="128" y="201.85" width="1.6" height="8.7" fill="url(#m14)"/>
<rect class="b" x="129.8" y="201.85" width="5.2" height="8.7" fill="url(#m4)"/>
<g class="n"><text x="91.75" y="207.25">5</text><text x="96.15" y="207.25">8</text><text x="103.85" y="207.25">3</text><text x="112.5" y="207.25">1</text><text x="117.85" y="207.25">9</text><text x="120.85" y="207.25">6</text><text x="125.5" y="207.25">2</text><text x="128.8" y="207.25">14</text><text x="132.4" y="207.25">4</text></g>
<line x1="89.6" y1="219.95" x2="136.3" y2="219.95" stroke="#7c7c7c" stroke-width="0.6"/>
<rect class="b" x="90" y="215.45" width="3.5" height="8.7" fill="url(#m5)"/>
<rect class="b" x="95" y="215.45" width="3" height="8.7" fill="url(#m8)"/>
<rect class="b" x="100" y="215.45" width="9" height="8.7" fill="url(#m3)"/>
<rect class="b" x="109" y="215.45" width="8" height="8.7" fill="url(#m1)"/>
<rect class="b" x="117" y="215.45" width="2.8" height="8.7" fill="url(#m9)"/>
<rect class="b" x="119.8" y="215.45" width="3" height="8.7" fill="url(#m6)"/>
<rect class="b" x="123" y="215.45" width="5.5" height="8.7" fill="url(#m2)"/>
<rect class="b" x="128.5" y="215.45" width="1.5" height="8.7" fill="url(#m14)"/>
<rect class="b" x="130" y="215.45" width="5.3" height="8.7" fill="url(#m4)"/>
<g class="n"><text x="91.75" y="220.85">5</text><text x="96.5" y="220.85">8</text><text x="104.5" y="220.85">3</text><text x="113" y="220.85">1</text><text x="118.4" y="220.85">9</text><text x="121.3" y="220.85">6</text><text x="125.75" y="220.85">2</text><text x="129.25" y="220.85">14</text><text x="132.65" y="220.85">4</text></g>
<line x1="89.6" y1="233.55" x2="131" y2="233.55" stroke="#7c7c7c" stroke-width="0.6"/>
<rect class="b" x="90" y="229.05" width="3.5" height="8.7" fill="url(#m5)"/>
<rect class="b" x="97" y="229.05" width="9" height="8.7" fill="url(#m3)"/>
<rect class="b" x="106" y="229.05" width="8" height="8.7" fill="url(#m1)"/>
<rect class="b" x="115" y="229.05" width="2.5" height="8.7" fill="url(#m6)"/>
<rect class="b" x="117.5" y="229.05" width="5" height="8.7" fill="url(#m2)"/>
<rect class="b" x="122.5" y="229.05" width="1.6" height="8.7" fill="url(#m14)"/>
<rect class="b" x="124.2" y="229.05" width="5.6" height="8.7" fill="url(#m4)"/>
<g class="n"><text x="91.75" y="234.45">5</text><text x="101.5" y="234.45">3</text><text x="110" y="234.45">1</text><text x="116.25" y="234.45">6</text><text x="120" y="234.45">2</text><text x="123.3" y="234.45">14</text><text x="127" y="234.45">4</text></g>
<line x1="89.6" y1="247.15" x2="131.5" y2="247.15" stroke="#7c7c7c" stroke-width="0.6"/>
<rect class="b" x="90" y="242.65" width="3.5" height="8.7" fill="url(#m5)"/>
<rect class="b" x="95" y="242.65" width="1.7" height="8.7" fill="url(#m8)"/>
<rect class="b" x="96.8" y="242.65" width="9.4" height="8.7" fill="url(#m3)"/>
<rect class="b" x="106.2" y="242.65" width="8" height="8.7" fill="url(#m1)"/>
<rect class="b" x="115.5" y="242.65" width="2.5" height="8.7" fill="url(#m6)"/>
<rect class="b" x="118" y="242.65" width="5.2" height="8.7" fill="url(#m2)"/>
<rect class="b" x="123.2" y="242.65" width="1.8" height="8.7" fill="url(#m14)"/>
<rect class="b" x="125" y="242.65" width="5.5" height="8.7" fill="url(#m4)"/>
<g class="n"><text x="91.75" y="248.05">5</text><text x="95.85" y="248.05">8</text><text x="101.5" y="248.05">3</text><text x="110.2" y="248.05">1</text><text x="116.75" y="248.05">6</text><text x="120.6" y="248.05">2</text><text x="124.1" y="248.05">14</text><text x="127.75" y="248.05">4</text></g>
<line x1="89.6" y1="260.75" x2="131.5" y2="260.75" stroke="#7c7c7c" stroke-width="0.6"/>
<rect class="b" x="90" y="256.25" width="3.5" height="8.7" fill="url(#m5)"/>
<rect class="b" x="95" y="256.25" width="1.7" height="8.7" fill="url(#m8)"/>
<rect class="b" x="96.8" y="256.25" width="9.4" height="8.7" fill="url(#m3)"/>
<rect class="b" x="106.2" y="256.25" width="8" height="8.7" fill="url(#m1)"/>
<rect class="b" x="115.5" y="256.25" width="2.5" height="8.7" fill="url(#m6)"/>
<rect class="b" x="118" y="256.25" width="5.2" height="8.7" fill="url(#m2)"/>
<rect class="b" x="123.2" y="256.25" width="1.8" height="8.7" fill="url(#m14)"/>
<rect class="b" x="125" y="256.25" width="5.5" height="8.7" fill="url(#m4)"/>
<g class="n"><text x="91.75" y="261.65">5</text><text x="95.85" y="261.65">8</text><text x="101.5" y="261.65">3</text><text x="110.2" y="261.65">1</text><text x="116.75" y="261.65">6</text><text x="120.6" y="261.65">2</text><text x="124.1" y="261.65">14</text><text x="127.75" y="261.65">4</text></g>
<line x1="89.6" y1="274.35" x2="129.5" y2="274.35" stroke="#7c7c7c" stroke-width="0.6"/>
<rect class="b" x="94.5" y="269.85" width="9.5" height="8.7" fill="url(#m3)"/>
<rect class="b" x="104" y="269.85" width="8" height="8.7" fill="url(#m1)"/>
<rect class="b" x="113" y="269.85" width="2.8" height="8.7" fill="url(#m6)"/>
<rect class="b" x="115.8" y="269.85" width="5.2" height="8.7" fill="url(#m2)"/>
<rect class="b" x="121" y="269.85" width="1.7" height="8.7" fill="url(#m14)"/>
<rect class="b" x="122.8" y="269.85" width="5.4" height="8.7" fill="url(#m4)"/>
<g class="n"><text x="99.25" y="275.25">3</text><text x="108" y="275.25">1</text><text x="114.4" y="275.25">6</text><text x="118.4" y="275.25">2</text><text x="121.85" y="275.25">14</text><text x="125.5" y="275.25">4</text></g>
<line x1="89.6" y1="287.95" x2="131.5" y2="287.95" stroke="#7c7c7c" stroke-width="0.6"/>
<rect class="b" x="90.5" y="283.45" width="3.7" height="8.7" fill="url(#m5)"/>
<rect class="b" x="96.8" y="283.45" width="9.4" height="8.7" fill="url(#m3)"/>
<rect class="b" x="106.2" y="283.45" width="7.8" height="8.7" fill="url(#m1)"/>
<rect class="b" x="115.2" y="283.45" width="2.6" height="8.7" fill="url(#m6)"/>
<rect class="b" x="117.8" y="283.45" width="5.4" height="8.7" fill="url(#m2)"/>
<rect class="b" x="123.2" y="283.45" width="1.7" height="8.7" fill="url(#m14)"/>
<rect class="b" x="125" y="283.45" width="5.5" height="8.7" fill="url(#m4)"/>
<g class="n"><text x="92.35" y="288.85">5</text><text x="101.5" y="288.85">3</text><text x="110.1" y="288.85">1</text><text x="116.5" y="288.85">6</text><text x="120.5" y="288.85">2</text><text x="124.05" y="288.85">14</text><text x="127.75" y="288.85">4</text></g>
<line x1="89.6" y1="301.55" x2="133" y2="301.55" stroke="#7c7c7c" stroke-width="0.6"/>
<rect class="b" x="89.8" y="297.05" width="4.2" height="8.7" fill="url(#m5)"/>
<rect class="b" x="98.5" y="297.05" width="9.5" height="8.7" fill="url(#m3)"/>
<rect class="b" x="108" y="297.05" width="7.5" height="8.7" fill="url(#m1)"/>
<rect class="b" x="117" y="297.05" width="2.5" height="8.7" fill="url(#m6)"/>
<rect class="b" x="119.5" y="297.05" width="5.3" height="8.7" fill="url(#m2)"/>
<rect class="b" x="124.8" y="297.05" width="1.6" height="8.7" fill="url(#m14)"/>
<rect class="b" x="126.5" y="297.05" width="5.5" height="8.7" fill="url(#m4)"/>
<g class="n"><text x="91.9" y="302.45">5</text><text x="103.25" y="302.45">3</text><text x="111.75" y="302.45">1</text><text x="118.25" y="302.45">6</text><text x="122.15" y="302.45">2</text><text x="125.6" y="302.45">14</text><text x="129.25" y="302.45">4</text></g>
<line x1="89.6" y1="315.15" x2="133" y2="315.15" stroke="#7c7c7c" stroke-width="0.6"/>
<rect class="b" x="90" y="310.65" width="3.8" height="8.7" fill="url(#m5)"/>
<rect class="b" x="94.2" y="310.65" width="3.3" height="8.7" fill="url(#m8)"/>
<rect class="b" x="98.5" y="310.65" width="9.5" height="8.7" fill="url(#m3)"/>
<rect class="b" x="108" y="310.65" width="7.8" height="8.7" fill="url(#m1)"/>
<rect class="b" x="117" y="310.65" width="2.7" height="8.7" fill="url(#m6)"/>
<rect class="b" x="119.7" y="310.65" width="5.3" height="8.7" fill="url(#m2)"/>
<rect class="b" x="125" y="310.65" width="1.5" height="8.7" fill="url(#m14)"/>
<rect class="b" x="126.5" y="310.65" width="5.5" height="8.7" fill="url(#m4)"/>
<g class="n"><text x="91.9" y="316.05">5</text><text x="95.85" y="316.05">8</text><text x="103.25" y="316.05">3</text><text x="111.9" y="316.05">1</text><text x="118.35" y="316.05">6</text><text x="122.35" y="316.05">2</text><text x="125.75" y="316.05">14</text><text x="129.25" y="316.05">4</text></g>
<line x1="89.6" y1="328.75" x2="133" y2="328.75" stroke="#7c7c7c" stroke-width="0.6"/>
<rect class="b" x="90" y="324.25" width="3.8" height="8.7" fill="url(#m5)"/>
<rect class="b" x="94.2" y="324.25" width="3.3" height="8.7" fill="url(#m8)"/>
<rect class="b" x="98.5" y="324.25" width="9.5" height="8.7" fill="url(#m3)"/>
<rect class="b" x="108" y="324.25" width="7.8" height="8.7" fill="url(#m1)"/>
<rect class="b" x="117" y="324.25" width="2.7" height="8.7" fill="url(#m6)"/>
<rect class="b" x="119.7" y="324.25" width="5.3" height="8.7" fill="url(#m2)"/>
<rect class="b" x="125" y="324.25" width="1.5" height="8.7" fill="url(#m14)"/>
<rect class="b" x="126.5" y="324.25" width="5.5" height="8.7" fill="url(#m4)"/>
<g class="n"><text x="91.9" y="329.65">5</text><text x="95.85" y="329.65">8</text><text x="103.25" y="329.65">3</text><text x="111.9" y="329.65">1</text><text x="118.35" y="329.65">6</text><text x="122.35" y="329.65">2</text><text x="125.75" y="329.65">14</text><text x="129.25" y="329.65">4</text></g>
<line x1="89.6" y1="342.35" x2="191" y2="342.35" stroke="#7c7c7c" stroke-width="0.6"/>
<rect class="b" x="90" y="337.85" width="3.4" height="8.7" fill="url(#m5)"/>
<rect class="b" x="94" y="337.85" width="3.4" height="8.7" fill="url(#m8)"/>
<rect class="b" x="99" y="337.85" width="9.6" height="8.7" fill="url(#m3)"/>
<rect class="b" x="108.6" y="337.85" width="7.4" height="8.7" fill="url(#m1)"/>
<rect class="b" x="117" y="337.85" width="3" height="8.7" fill="url(#m6)"/>
<rect class="b" x="120" y="337.85" width="5" height="8.7" fill="url(#m2)"/>
<rect class="b" x="125" y="337.85" width="1.8" height="8.7" fill="url(#m14)"/>
<rect class="b" x="127" y="337.85" width="5.6" height="8.7" fill="url(#m4)"/>
<rect class="b" x="150.6" y="337.85" width="2.4" height="8.7" fill="url(#m13)"/>
<rect class="b" x="157.2" y="337.85" width="1" height="8.7" fill="url(#m18)"/>
<rect class="b" x="164.6" y="337.85" width="1.4" height="8.7" fill="url(#m12)"/>
<rect class="b" x="168.4" y="337.85" width="1" height="8.7" fill="url(#m19)"/>
<rect class="b" x="171.4" y="337.85" width="1.2" height="8.7" fill="url(#m8)"/>
<rect class="b" x="177" y="337.85" width="3.6" height="8.7" fill="url(#m11)"/>
<rect class="b" x="188.6" y="337.85" width="1.6" height="8.7" fill="url(#m15)"/>
<g class="n"><text x="91.7" y="343.25">5</text><text x="95.7" y="343.25">8</text><text x="103.8" y="343.25">3</text><text x="112.3" y="343.25">1</text><text x="118.5" y="343.25">6</text><text x="122.5" y="343.25">2</text><text x="125.9" y="343.25">14</text><text x="129.8" y="343.25">4</text><text x="151.8" y="343.25">13</text><text x="157.7" y="343.25">18</text><text x="165.3" y="343.25">12</text><text x="168.9" y="343.25">19</text><text x="172" y="343.25">8</text><text x="178.8" y="343.25">11</text><text x="189.4" y="343.25">15</text></g>
<line x1="90" y1="355.9" x2="278.9" y2="355.9" stroke="#8a8a8a" stroke-width="0.55"/>
<g class="ax" font-size="4.8">
<line x1="90" y1="355.9" x2="90" y2="358.5" stroke="#8a8a8a" stroke-width="0.55"/>
<text x="90" y="364.6" text-anchor="middle">0</text>
<line x1="127.78" y1="355.9" x2="127.78" y2="358.5" stroke="#8a8a8a" stroke-width="0.55"/>
<text x="127.78" y="364.6" text-anchor="middle">200</text>
<line x1="165.56" y1="355.9" x2="165.56" y2="358.5" stroke="#8a8a8a" stroke-width="0.55"/>
<text x="165.56" y="364.6" text-anchor="middle">400</text>
<line x1="203.34" y1="355.9" x2="203.34" y2="358.5" stroke="#8a8a8a" stroke-width="0.55"/>
<text x="203.34" y="364.6" text-anchor="middle">600</text>
<line x1="241.12" y1="355.9" x2="241.12" y2="358.5" stroke="#8a8a8a" stroke-width="0.55"/>
<text x="241.12" y="364.6" text-anchor="middle">800</text>
<line x1="278.9" y1="355.9" x2="278.9" y2="358.5" stroke="#8a8a8a" stroke-width="0.55"/>
<text x="278.9" y="364.6" text-anchor="middle">1000</text>
<text x="89.6" y="357.1" text-anchor="end">5'</text>
<text x="280.2" y="357.1">3'</text>
</g>
<rect x="320.4" y="25.1" width="27.6" height="9.2" fill="url(#dgreen)" stroke="#bdbdbd" stroke-width="0.3"/>
<rect x="348" y="25.1" width="50" height="9.2" fill="url(#dgray)" stroke="#bdbdbd" stroke-width="0.3"/>
<rect x="398" y="25.1" width="29.4" height="9.2" fill="url(#dyellow)" stroke="#bdbdbd" stroke-width="0.3"/>
<rect x="427.4" y="25.1" width="39.6" height="9.2" fill="url(#dgray)" stroke="#bdbdbd" stroke-width="0.3"/>
<rect x="467" y="25.1" width="8.6" height="9.2" fill="url(#dpink)" stroke="#bdbdbd" stroke-width="0.3"/>
<rect x="475.6" y="25.1" width="4" height="9.2" fill="url(#dgray)" stroke="#bdbdbd" stroke-width="0.3"/>
<rect x="320.4" y="38.71" width="4.8" height="9.2" fill="url(#dgray)" stroke="#bdbdbd" stroke-width="0.3"/>
<rect x="325.2" y="38.71" width="30.4" height="9.2" fill="url(#dteal)" stroke="#bdbdbd" stroke-width="0.3"/>
<rect x="355.6" y="38.71" width="4" height="9.2" fill="url(#dgray)" stroke="#bdbdbd" stroke-width="0.3"/>
<rect x="320.4" y="52.32" width="2.1" height="9.2" fill="url(#dgray)" stroke="#bdbdbd" stroke-width="0.3"/>
<rect x="322.5" y="52.32" width="29.9" height="9.2" fill="url(#dteal)" stroke="#bdbdbd" stroke-width="0.3"/>
<rect x="352.4" y="52.32" width="2.6" height="9.2" fill="url(#dgray)" stroke="#bdbdbd" stroke-width="0.3"/>
<rect x="320.4" y="65.93" width="9.6" height="9.2" fill="url(#dgray)" stroke="#bdbdbd" stroke-width="0.3"/>
<rect x="330" y="65.93" width="31.6" height="9.2" fill="url(#dteal)" stroke="#bdbdbd" stroke-width="0.3"/>
<rect x="361.6" y="65.93" width="2" height="9.2" fill="url(#dgray)" stroke="#bdbdbd" stroke-width="0.3"/>
<rect x="320.4" y="79.54" width="8" height="9.2" fill="url(#dgray)" stroke="#bdbdbd" stroke-width="0.3"/>
<rect x="328.4" y="79.54" width="31.6" height="9.2" fill="url(#dteal)" stroke="#bdbdbd" stroke-width="0.3"/>
<rect x="360" y="79.54" width="2" height="9.2" fill="url(#dgray)" stroke="#bdbdbd" stroke-width="0.3"/>
<rect x="320.4" y="93.15" width="7" height="9.2" fill="url(#dgray)" stroke="#bdbdbd" stroke-width="0.3"/>
<rect x="327.4" y="93.15" width="31.2" height="9.2" fill="url(#dteal)" stroke="#bdbdbd" stroke-width="0.3"/>
<rect x="358.6" y="93.15" width="1.4" height="9.2" fill="url(#dgray)" stroke="#bdbdbd" stroke-width="0.3"/>
<rect x="320.4" y="106.76" width="5.6" height="9.2" fill="url(#dgray)" stroke="#bdbdbd" stroke-width="0.3"/>
<rect x="326" y="106.76" width="31" height="9.2" fill="url(#dteal)" stroke="#bdbdbd" stroke-width="0.3"/>
<rect x="357" y="106.76" width="1.5" height="9.2" fill="url(#dgray)" stroke="#bdbdbd" stroke-width="0.3"/>
<rect x="320.4" y="120.37" width="7" height="9.2" fill="url(#dgray)" stroke="#bdbdbd" stroke-width="0.3"/>
<rect x="327.4" y="120.37" width="31.2" height="9.2" fill="url(#dteal)" stroke="#bdbdbd" stroke-width="0.3"/>
<rect x="358.6" y="120.37" width="1" height="9.2" fill="url(#dgray)" stroke="#bdbdbd" stroke-width="0.3"/>
<rect x="320.4" y="133.98" width="8.6" height="9.2" fill="url(#dgray)" stroke="#bdbdbd" stroke-width="0.3"/>
<rect x="329" y="133.98" width="30.4" height="9.2" fill="url(#dteal)" stroke="#bdbdbd" stroke-width="0.3"/>
<rect x="359.4" y="133.98" width="0.8" height="9.2" fill="url(#dgray)" stroke="#bdbdbd" stroke-width="0.3"/>
<rect x="320.4" y="147.59" width="8.6" height="9.2" fill="url(#dgray)" stroke="#bdbdbd" stroke-width="0.3"/>
<rect x="329" y="147.59" width="30.4" height="9.2" fill="url(#dteal)" stroke="#bdbdbd" stroke-width="0.3"/>
<rect x="359.4" y="147.59" width="0.8" height="9.2" fill="url(#dgray)" stroke="#bdbdbd" stroke-width="0.3"/>
<rect x="320.4" y="161.2" width="8.6" height="9.2" fill="url(#dgray)" stroke="#bdbdbd" stroke-width="0.3"/>
<rect x="329" y="161.2" width="30.4" height="9.2" fill="url(#dteal)" stroke="#bdbdbd" stroke-width="0.3"/>
<rect x="359.4" y="161.2" width="0.8" height="9.2" fill="url(#dgray)" stroke="#bdbdbd" stroke-width="0.3"/>
<rect x="320.4" y="174.81" width="1.6" height="9.2" fill="url(#dgray)" stroke="#bdbdbd" stroke-width="0.3"/>
<rect x="322" y="174.81" width="33" height="9.2" fill="url(#dteal)" stroke="#bdbdbd" stroke-width="0.3"/>
<rect x="355" y="174.81" width="1.4" height="9.2" fill="url(#dgray)" stroke="#bdbdbd" stroke-width="0.3"/>
<rect x="320.4" y="188.42" width="11.6" height="9.2" fill="url(#dgray)" stroke="#bdbdbd" stroke-width="0.3"/>
<rect x="332" y="188.42" width="33" height="9.2" fill="url(#dteal)" stroke="#bdbdbd" stroke-width="0.3"/>
<rect x="365" y="188.42" width="1" height="9.2" fill="url(#dgray)" stroke="#bdbdbd" stroke-width="0.3"/>
<rect x="320.4" y="202.03" width="11.2" height="9.2" fill="url(#dgray)" stroke="#bdbdbd" stroke-width="0.3"/>
<rect x="331.6" y="202.03" width="33.4" height="9.2" fill="url(#dteal)" stroke="#bdbdbd" stroke-width="0.3"/>
<rect x="365" y="202.03" width="1" height="9.2" fill="url(#dgray)" stroke="#bdbdbd" stroke-width="0.3"/>
<rect x="320.4" y="215.64" width="12" height="9.2" fill="url(#dgray)" stroke="#bdbdbd" stroke-width="0.3"/>
<rect x="332.4" y="215.64" width="33" height="9.2" fill="url(#dteal)" stroke="#bdbdbd" stroke-width="0.3"/>
<rect x="365.4" y="215.64" width="0.8" height="9.2" fill="url(#dgray)" stroke="#bdbdbd" stroke-width="0.3"/>
<rect x="320.4" y="229.25" width="9" height="9.2" fill="url(#dgray)" stroke="#bdbdbd" stroke-width="0.3"/>
<rect x="329.4" y="229.25" width="30.2" height="9.2" fill="url(#dteal)" stroke="#bdbdbd" stroke-width="0.3"/>
<rect x="359.6" y="229.25" width="0.8" height="9.2" fill="url(#dgray)" stroke="#bdbdbd" stroke-width="0.3"/>
<rect x="320.4" y="242.86" width="9.6" height="9.2" fill="url(#dgray)" stroke="#bdbdbd" stroke-width="0.3"/>
<rect x="330" y="242.86" width="30.4" height="9.2" fill="url(#dteal)" stroke="#bdbdbd" stroke-width="0.3"/>
<rect x="360.4" y="242.86" width="0.8" height="9.2" fill="url(#dgray)" stroke="#bdbdbd" stroke-width="0.3"/>
<rect x="320.4" y="256.47" width="9.6" height="9.2" fill="url(#dgray)" stroke="#bdbdbd" stroke-width="0.3"/>
<rect x="330" y="256.47" width="30.4" height="9.2" fill="url(#dteal)" stroke="#bdbdbd" stroke-width="0.3"/>
<rect x="360.4" y="256.47" width="0.8" height="9.2" fill="url(#dgray)" stroke="#bdbdbd" stroke-width="0.3"/>
<rect x="320.4" y="270.08" width="7" height="9.2" fill="url(#dgray)" stroke="#bdbdbd" stroke-width="0.3"/>
<rect x="327.4" y="270.08" width="30.6" height="9.2" fill="url(#dteal)" stroke="#bdbdbd" stroke-width="0.3"/>
<rect x="358" y="270.08" width="0.8" height="9.2" fill="url(#dgray)" stroke="#bdbdbd" stroke-width="0.3"/>
<rect x="320.4" y="283.69" width="9" height="9.2" fill="url(#dgray)" stroke="#bdbdbd" stroke-width="0.3"/>
<rect x="329.4" y="283.69" width="30.6" height="9.2" fill="url(#dteal)" stroke="#bdbdbd" stroke-width="0.3"/>
<rect x="360" y="283.69" width="1" height="9.2" fill="url(#dgray)" stroke="#bdbdbd" stroke-width="0.3"/>
<rect x="320.4" y="297.3" width="11.2" height="9.2" fill="url(#dred)" stroke="#bdbdbd" stroke-width="0.3"/>
<rect x="331.6" y="297.3" width="30.4" height="9.2" fill="url(#dteal)" stroke="#bdbdbd" stroke-width="0.3"/>
<rect x="362" y="297.3" width="0.6" height="9.2" fill="url(#dgray)" stroke="#bdbdbd" stroke-width="0.3"/>
<rect x="320.4" y="310.91" width="10.6" height="9.2" fill="url(#dgray)" stroke="#bdbdbd" stroke-width="0.3"/>
<rect x="331" y="310.91" width="31" height="9.2" fill="url(#dteal)" stroke="#bdbdbd" stroke-width="0.3"/>
<rect x="362" y="310.91" width="0.8" height="9.2" fill="url(#dgray)" stroke="#bdbdbd" stroke-width="0.3"/>
<rect x="320.4" y="324.52" width="10.6" height="9.2" fill="url(#dgray)" stroke="#bdbdbd" stroke-width="0.3"/>
<rect x="331" y="324.52" width="31" height="9.2" fill="url(#dteal)" stroke="#bdbdbd" stroke-width="0.3"/>
<rect x="362" y="324.52" width="0.8" height="9.2" fill="url(#dgray)" stroke="#bdbdbd" stroke-width="0.3"/>
<rect x="320.4" y="338.13" width="11.6" height="9.2" fill="url(#dgray)" stroke="#bdbdbd" stroke-width="0.3"/>
<rect x="332" y="338.13" width="30.6" height="9.2" fill="url(#dteal)" stroke="#bdbdbd" stroke-width="0.3"/>
<rect x="362.6" y="338.13" width="52" height="9.2" fill="url(#dlav)" stroke="#bdbdbd" stroke-width="0.3"/>
<rect x="414.6" y="338.13" width="5.8" height="9.2" fill="url(#dgray)" stroke="#bdbdbd" stroke-width="0.3"/>
<line x1="320.4" y1="355.9" x2="509" y2="355.9" stroke="#8a8a8a" stroke-width="0.55"/>
<g class="ax" font-size="4.8">
<line x1="320.4" y1="355.9" x2="320.4" y2="358.5" stroke="#8a8a8a" stroke-width="0.55"/>
<text x="320.4" y="364.6" text-anchor="middle">0</text>
<line x1="358.12" y1="355.9" x2="358.12" y2="358.5" stroke="#8a8a8a" stroke-width="0.55"/>
<text x="358.12" y="364.6" text-anchor="middle">200</text>
<line x1="395.84" y1="355.9" x2="395.84" y2="358.5" stroke="#8a8a8a" stroke-width="0.55"/>
<text x="395.84" y="364.6" text-anchor="middle">400</text>
<line x1="433.56" y1="355.9" x2="433.56" y2="358.5" stroke="#8a8a8a" stroke-width="0.55"/>
<text x="433.56" y="364.6" text-anchor="middle">600</text>
<line x1="471.28" y1="355.9" x2="471.28" y2="358.5" stroke="#8a8a8a" stroke-width="0.55"/>
<text x="471.28" y="364.6" text-anchor="middle">800</text>
<line x1="509" y1="355.9" x2="509" y2="358.5" stroke="#8a8a8a" stroke-width="0.55"/>
<text x="509" y="364.6" text-anchor="middle">1000</text>
<text x="320" y="357.1" text-anchor="end">5'</text>
<text x="510.3" y="357.1">3'</text>
</g>
<rect x="490.3" y="24.2" width="11.8" height="4.5" fill="url(#l19)"/>
<text x="503.3" y="27.68" font-size="4.4" fill="#333" stroke="#333" stroke-width="0.1" font-style="italic" font-family="'Liberation Sans',sans-serif">Motif 19</text>
<rect x="490.3" y="30.27" width="11.8" height="4.5" fill="url(#l11)"/>
<text x="503.3" y="33.75" font-size="4.4" fill="#333" stroke="#333" stroke-width="0.1" font-style="italic" font-family="'Liberation Sans',sans-serif">Motif 11</text>
<rect x="490.3" y="36.33" width="11.8" height="4.5" fill="url(#l13)"/>
<text x="503.3" y="39.81" font-size="4.4" fill="#333" stroke="#333" stroke-width="0.1" font-style="italic" font-family="'Liberation Sans',sans-serif">Motif 13</text>
<rect x="490.3" y="42.4" width="11.8" height="4.5" fill="url(#l16)"/>
<text x="503.3" y="45.88" font-size="4.4" fill="#333" stroke="#333" stroke-width="0.1" font-style="italic" font-family="'Liberation Sans',sans-serif">Motif 16</text>
<rect x="490.3" y="48.46" width="11.8" height="4.5" fill="url(#l2)"/>
<text x="503.3" y="51.94" font-size="4.4" fill="#333" stroke="#333" stroke-width="0.1" font-style="italic" font-family="'Liberation Sans',sans-serif">Motif 2</text>
<rect x="490.3" y="54.53" width="11.8" height="4.5" fill="url(#l12)"/>
<text x="503.3" y="58.01" font-size="4.4" fill="#333" stroke="#333" stroke-width="0.1" font-style="italic" font-family="'Liberation Sans',sans-serif">Motif 12</text>
<rect x="490.3" y="60.59" width="11.8" height="4.5" fill="url(#l3)"/>
<text x="503.3" y="64.07" font-size="4.4" fill="#333" stroke="#333" stroke-width="0.1" font-style="italic" font-family="'Liberation Sans',sans-serif">Motif 3</text>
<rect x="490.3" y="66.66" width="11.8" height="4.5" fill="url(#l1)"/>
<text x="503.3" y="70.14" font-size="4.4" fill="#333" stroke="#333" stroke-width="0.1" font-style="italic" font-family="'Liberation Sans',sans-serif">Motif 1</text>
<rect x="490.3" y="72.72" width="11.8" height="4.5" fill="url(#l4)"/>
<text x="503.3" y="76.2" font-size="4.4" fill="#333" stroke="#333" stroke-width="0.1" font-style="italic" font-family="'Liberation Sans',sans-serif">Motif 4</text>
<rect x="490.3" y="78.78" width="11.8" height="4.5" fill="url(#l14)"/>
<text x="503.3" y="82.27" font-size="4.4" fill="#333" stroke="#333" stroke-width="0.1" font-style="italic" font-family="'Liberation Sans',sans-serif">Motif 14</text>
<rect x="490.3" y="84.85" width="11.8" height="4.5" fill="url(#l6)"/>
<text x="503.3" y="88.33" font-size="4.4" fill="#333" stroke="#333" stroke-width="0.1" font-style="italic" font-family="'Liberation Sans',sans-serif">Motif 6</text>
<rect x="490.3" y="90.91" width="11.8" height="4.5" fill="url(#l18)"/>
<text x="503.3" y="94.4" font-size="4.4" fill="#333" stroke="#333" stroke-width="0.1" font-style="italic" font-family="'Liberation Sans',sans-serif">Motif 18</text>
<rect x="490.3" y="96.98" width="11.8" height="4.5" fill="url(#l17)"/>
<text x="503.3" y="100.46" font-size="4.4" fill="#333" stroke="#333" stroke-width="0.1" font-style="italic" font-family="'Liberation Sans',sans-serif">Motif 17</text>
<rect x="490.3" y="103.04" width="11.8" height="4.5" fill="url(#l15)"/>
<text x="503.3" y="106.53" font-size="4.4" fill="#333" stroke="#333" stroke-width="0.1" font-style="italic" font-family="'Liberation Sans',sans-serif">Motif 15</text>
<rect x="490.3" y="109.11" width="11.8" height="4.5" fill="url(#l20)"/>
<text x="503.3" y="112.59" font-size="4.4" fill="#333" stroke="#333" stroke-width="0.1" font-style="italic" font-family="'Liberation Sans',sans-serif">Motif 20</text>
<rect x="490.3" y="115.18" width="11.8" height="4.5" fill="url(#l5)"/>
<text x="503.3" y="118.66" font-size="4.4" fill="#333" stroke="#333" stroke-width="0.1" font-style="italic" font-family="'Liberation Sans',sans-serif">Motif 5</text>
<rect x="490.3" y="121.24" width="11.8" height="4.5" fill="url(#l8)"/>
<text x="503.3" y="124.72" font-size="4.4" fill="#333" stroke="#333" stroke-width="0.1" font-style="italic" font-family="'Liberation Sans',sans-serif">Motif 8</text>
<rect x="490.3" y="127.31" width="11.8" height="4.5" fill="url(#l9)"/>
<text x="503.3" y="130.79" font-size="4.4" fill="#333" stroke="#333" stroke-width="0.1" font-style="italic" font-family="'Liberation Sans',sans-serif">Motif 9</text>
<rect x="490.3" y="133.37" width="11.8" height="4.5" fill="url(#l7)"/>
<text x="503.3" y="136.85" font-size="4.4" fill="#333" stroke="#333" stroke-width="0.1" font-style="italic" font-family="'Liberation Sans',sans-serif">Motif 7</text>
<rect x="490.3" y="139.44" width="11.8" height="4.5" fill="url(#l10)"/>
<text x="503.3" y="142.92" font-size="4.4" fill="#333" stroke="#333" stroke-width="0.1" font-style="italic" font-family="'Liberation Sans',sans-serif">Motif 10</text>
<rect x="490.3" y="155" width="11.8" height="5" fill="url(#l1)"/>
<text x="503.3" y="158.98" font-size="4.4" fill="#333" stroke="#333" stroke-width="0.1" font-style="italic" font-family="'Liberation Sans',sans-serif">SpoU-like</text>
<rect x="490.3" y="161.06" width="11.8" height="5" fill="url(#l2)"/>
<text x="503.3" y="165.04" font-size="4.4" fill="#333" stroke="#333" stroke-width="0.1" font-style="italic" font-family="'Liberation Sans',sans-serif">EIsH superfamily</text>
<rect x="490.3" y="167.12" width="11.8" height="5" fill="url(#l3)"/>
<text x="503.3" y="171.1" font-size="4.4" fill="#333" stroke="#333" stroke-width="0.1" font-style="italic" font-family="'Liberation Sans',sans-serif">DUF679 superfamily</text>
<rect x="490.3" y="173.18" width="11.8" height="5" fill="url(#l4)"/>
<text x="503.3" y="177.16" font-size="4.4" fill="#333" stroke="#333" stroke-width="0.1" font-style="italic" font-family="'Liberation Sans',sans-serif">DUF679</text>
<rect x="490.3" y="179.24" width="11.8" height="5" fill="url(#l5)"/>
<text x="503.3" y="183.22" font-size="4.4" fill="#333" stroke="#333" stroke-width="0.1" font-style="italic" font-family="'Liberation Sans',sans-serif">MCPVI superfamily</text>
<rect x="490.3" y="185.3" width="11.8" height="5" fill="url(#l6)"/>
<text x="503.3" y="189.28" font-size="4.4" fill="#333" stroke="#333" stroke-width="0.1" font-style="italic" font-family="'Liberation Sans',sans-serif">AKR_AKR4A_4B</text>
</g>
<g id="panelB">
<text x="33.9" y="399.1" font-size="17.4" fill="#000" stroke="#000" stroke-width="0.3" transform="translate(33.9 0) scale(0.82 1) translate(-33.9 0)" font-family="'Liberation Sans',sans-serif">B</text>
<path d="M43.7,410 H31.4 Q24.9,410 24.9,416.5" fill="none" stroke="#6e6e6e" stroke-width="0.9" stroke-linecap="round" stroke-linejoin="round"/>
<path d="M39.7,426.8 H30.9 Q24.9,426.8 24.9,432.8" fill="none" stroke="#6e6e6e" stroke-width="0.9" stroke-linecap="round" stroke-linejoin="round"/>
<path d="M24.9,416.5 V492.6 Q24.9,494.7 26.4,494.8" fill="none" stroke="#6e6e6e" stroke-width="0.9" stroke-linecap="round" stroke-linejoin="round"/>
<path d="M43.7,419.09 H41.5 Q39.7,419.09 39.7,420.89" fill="none" stroke="#6e6e6e" stroke-width="0.9" stroke-linecap="round" stroke-linejoin="round"/>
<path d="M39.7,420.89 V432.4 Q39.7,434.5 41.5,434.6" fill="none" stroke="#6e6e6e" stroke-width="0.9" stroke-linecap="round" stroke-linejoin="round"/>
<path d="M43.7,428.17 H43.1 Q41.5,428.17 41.5,429.77" fill="none" stroke="#6e6e6e" stroke-width="0.9" stroke-linecap="round" stroke-linejoin="round"/>
<path d="M41.5,429.77 V439.4 Q41.5,441.5 42.6,441.6" fill="none" stroke="#6e6e6e" stroke-width="0.9" stroke-linecap="round" stroke-linejoin="round"/>
<path d="M43.7,437.26 H43.7 Q42.6,437.26 42.6,438.36 V445.25 Q42.6,446.35 43.7,446.35 H43.7" fill="none" stroke="#6e6e6e" stroke-width="0.9" stroke-linecap="round" stroke-linejoin="round"/>
<path d="M42.2,459.8 H32.4 Q26.4,459.8 26.4,465.8" fill="none" stroke="#6e6e6e" stroke-width="0.9" stroke-linecap="round" stroke-linejoin="round"/>
<path d="M26.4,465.8 V527.6 Q26.4,529.7 27.8,529.8" fill="none" stroke="#6e6e6e" stroke-width="0.9" stroke-linecap="round" stroke-linejoin="round"/>
<path d="M43.7,455.44 H43.7 Q42.2,455.44 42.2,456.94 V463.02 Q42.2,464.52 43.7,464.52 H43.7" fill="none" stroke="#6e6e6e" stroke-width="0.9" stroke-linecap="round" stroke-linejoin="round"/>
<path d="M39.7,497.1 H33.3 Q27.8,497.1 27.8,502.6" fill="none" stroke="#6e6e6e" stroke-width="0.9" stroke-linecap="round" stroke-linejoin="round"/>
<path d="M27.8,502.6 V560.4 Q27.8,562.5 29.3,562.6" fill="none" stroke="#6e6e6e" stroke-width="0.9" stroke-linecap="round" stroke-linejoin="round"/>
<path d="M43.7,473.61 H41.5 Q39.7,473.61 39.7,475.41" fill="none" stroke="#6e6e6e" stroke-width="0.9" stroke-linecap="round" stroke-linejoin="round"/>
<path d="M39.7,475.41 V512.2 Q39.7,514.3 41.6,514.4" fill="none" stroke="#6e6e6e" stroke-width="0.9" stroke-linecap="round" stroke-linejoin="round"/>
<path d="M39.7,487 H41.6" fill="none" stroke="#6e6e6e" stroke-width="0.9" stroke-linecap="round" stroke-linejoin="round"/>
<path d="M43.7,482.7 H43.1 Q41.6,482.7 41.6,484.2 V490.28 Q41.6,491.78 43.1,491.78 H43.7" fill="none" stroke="#6e6e6e" stroke-width="0.9" stroke-linecap="round" stroke-linejoin="round"/>
<path d="M43.7,500.87 H42.5 Q41,500.87 41,502.37" fill="none" stroke="#6e6e6e" stroke-width="0.9" stroke-linecap="round" stroke-linejoin="round"/>
<path d="M41,502.37 V519" fill="none" stroke="#6e6e6e" stroke-width="0.9" stroke-linecap="round" stroke-linejoin="round"/>
<path d="M41,509.96 H43.7" fill="none" stroke="#6e6e6e" stroke-width="0.9" stroke-linecap="round" stroke-linejoin="round"/>
<path d="M43.7,519.04 H43.2 Q41.8,519.04 41.8,520.44 V526.73 Q41.8,528.13 43.2,528.13 H43.7" fill="none" stroke="#6e6e6e" stroke-width="0.9" stroke-linecap="round" stroke-linejoin="round"/>
<path d="M41,515 Q41,519 41.8,519.6" fill="none" stroke="#6e6e6e" stroke-width="0.9" stroke-linecap="round" stroke-linejoin="round"/>
<path d="M42.2,541.6 H34.3 Q29.3,541.6 29.3,546.6" fill="none" stroke="#6e6e6e" stroke-width="0.9" stroke-linecap="round" stroke-linejoin="round"/>
<path d="M29.3,546.6 V580.4 Q29.3,582.5 30.3,582.6" fill="none" stroke="#6e6e6e" stroke-width="0.9" stroke-linecap="round" stroke-linejoin="round"/>
<path d="M43.7,537.22 H43.7 Q42.2,537.22 42.2,538.72 V544.81 Q42.2,546.31 43.7,546.31 H43.7" fill="none" stroke="#6e6e6e" stroke-width="0.9" stroke-linecap="round" stroke-linejoin="round"/>
<path d="M42.2,559.8 H35.3 Q30.3,559.8 30.3,564.8" fill="none" stroke="#6e6e6e" stroke-width="0.9" stroke-linecap="round" stroke-linejoin="round"/>
<path d="M30.3,564.8 V602.4 Q30.3,604.5 31.6,604.6" fill="none" stroke="#6e6e6e" stroke-width="0.9" stroke-linecap="round" stroke-linejoin="round"/>
<path d="M43.7,555.39 H43.7 Q42.2,555.39 42.2,556.89 V562.98 Q42.2,564.48 43.7,564.48 H43.7" fill="none" stroke="#6e6e6e" stroke-width="0.9" stroke-linecap="round" stroke-linejoin="round"/>
<path d="M39.7,581.6 H36.6 Q31.6,581.6 31.6,586.6" fill="none" stroke="#6e6e6e" stroke-width="0.9" stroke-linecap="round" stroke-linejoin="round"/>
<path d="M31.6,586.6 V624.4 Q31.6,626.5 33,626.6" fill="none" stroke="#6e6e6e" stroke-width="0.9" stroke-linecap="round" stroke-linejoin="round"/>
<path d="M43.7,573.57 H41.5 Q39.7,573.57 39.7,575.37" fill="none" stroke="#6e6e6e" stroke-width="0.9" stroke-linecap="round" stroke-linejoin="round"/>
<path d="M39.7,575.37 V588.1 Q39.7,590.2 41.5,590.3" fill="none" stroke="#6e6e6e" stroke-width="0.9" stroke-linecap="round" stroke-linejoin="round"/>
<path d="M43.7,582.65 H43.1 Q41.5,582.65 41.5,584.25" fill="none" stroke="#6e6e6e" stroke-width="0.9" stroke-linecap="round" stroke-linejoin="round"/>
<path d="M41.5,584.25 V593.9 Q41.5,596 42.6,596.1" fill="none" stroke="#6e6e6e" stroke-width="0.9" stroke-linecap="round" stroke-linejoin="round"/>
<path d="M43.7,591.74 H43.7 Q42.6,591.74 42.6,592.84 V599.73 Q42.6,600.83 43.7,600.83 H43.7" fill="none" stroke="#6e6e6e" stroke-width="0.9" stroke-linecap="round" stroke-linejoin="round"/>
<path d="M42.2,614.4 H37.5 Q33,614.4 33,618.9" fill="none" stroke="#6e6e6e" stroke-width="0.9" stroke-linecap="round" stroke-linejoin="round"/>
<path d="M33,618.9 V637.4 Q33,639.5 34.3,639.6" fill="none" stroke="#6e6e6e" stroke-width="0.9" stroke-linecap="round" stroke-linejoin="round"/>
<path d="M43.7,609.91 H43.7 Q42.2,609.91 42.2,611.41 V617.5 Q42.2,619 43.7,619 H43.7" fill="none" stroke="#6e6e6e" stroke-width="0.9" stroke-linecap="round" stroke-linejoin="round"/>
<path d="M43.7,628.09 H37.8 Q34.3,628.09 34.3,631.59" fill="none" stroke="#6e6e6e" stroke-width="0.9" stroke-linecap="round" stroke-linejoin="round"/>
<path d="M34.3,631.59 V646.4 Q34.3,648.5 36,648.6" fill="none" stroke="#6e6e6e" stroke-width="0.9" stroke-linecap="round" stroke-linejoin="round"/>
<path d="M43.7,637.17 H39 Q36,637.17 36,640.17" fill="none" stroke="#6e6e6e" stroke-width="0.9" stroke-linecap="round" stroke-linejoin="round"/>
<path d="M36,640.17 V655.4 Q36,657.5 37.6,657.6" fill="none" stroke="#6e6e6e" stroke-width="0.9" stroke-linecap="round" stroke-linejoin="round"/>
<path d="M43.7,646.26 H40.2 Q37.6,646.26 37.6,648.86" fill="none" stroke="#6e6e6e" stroke-width="0.9" stroke-linecap="round" stroke-linejoin="round"/>
<path d="M37.6,648.86 V664.4 Q37.6,666.5 39,666.6" fill="none" stroke="#6e6e6e" stroke-width="0.9" stroke-linecap="round" stroke-linejoin="round"/>
<path d="M43.7,655.35 H41.2 Q39,655.35 39,657.55" fill="none" stroke="#6e6e6e" stroke-width="0.9" stroke-linecap="round" stroke-linejoin="round"/>
<path d="M39,657.55 V673.4 Q39,675.5 40.5,675.6" fill="none" stroke="#6e6e6e" stroke-width="0.9" stroke-linecap="round" stroke-linejoin="round"/>
<path d="M43.7,664.44 H42.3 Q40.5,664.44 40.5,666.24" fill="none" stroke="#6e6e6e" stroke-width="0.9" stroke-linecap="round" stroke-linejoin="round"/>
<path d="M40.5,666.24 V675.9 Q40.5,678 42,678.1" fill="none" stroke="#6e6e6e" stroke-width="0.9" stroke-linecap="round" stroke-linejoin="round"/>
<path d="M43.7,673.52 H43.3 Q42,673.52 42,674.82 V681.31 Q42,682.61 43.3,682.61 H43.7" fill="none" stroke="#6e6e6e" stroke-width="0.9" stroke-linecap="round" stroke-linejoin="round"/>
<circle cx="23.9" cy="443.2" r="0.35" fill="#777"/>
<text x="46.2" y="411.1" font-size="4.45" font-weight="bold" fill="#1fae7c" stroke="#1fae7c" stroke-width="0.12" font-family="'Liberation Serif',serif">AtpPLA I</text>
<text x="46.2" y="420.19" font-size="4.45" font-weight="bold" fill="#1fae7c" stroke="#1fae7c" stroke-width="0.12" font-family="'Liberation Serif',serif">AtpPLA IIIδ</text>
<text x="46.2" y="429.27" font-size="4.45" font-weight="bold" fill="#1fae7c" stroke="#1fae7c" stroke-width="0.12" font-family="'Liberation Serif',serif">AtpPLA IIIα</text>
<text x="46.2" y="438.36" font-size="4.45" font-weight="bold" fill="#1fae7c" stroke="#1fae7c" stroke-width="0.12" font-family="'Liberation Serif',serif">AtpPLA IIIγ</text>
<text x="46.2" y="447.45" font-size="4.45" font-weight="bold" fill="#1fae7c" stroke="#1fae7c" stroke-width="0.12" font-family="'Liberation Serif',serif">AtpPLA IIIβ</text>
<text x="46.2" y="456.54" font-size="4.45" font-weight="bold" fill="#f0802c" stroke="#f0802c" stroke-width="0.12" font-family="'Liberation Serif',serif">IbPLA IIθ</text>
<text x="46.2" y="465.62" font-size="4.45" font-weight="bold" fill="#f0802c" stroke="#f0802c" stroke-width="0.12" font-family="'Liberation Serif',serif">IbPLA IIζ</text>
<text x="46.2" y="474.71" font-size="4.45" font-weight="bold" fill="#f0802c" stroke="#f0802c" stroke-width="0.12" font-family="'Liberation Serif',serif">IbPLA IIψ</text>
<text x="46.2" y="483.8" font-size="4.45" font-weight="bold" fill="#f0802c" stroke="#f0802c" stroke-width="0.12" font-family="'Liberation Serif',serif">IbPLA IIμ</text>
<text x="46.2" y="492.88" font-size="4.45" font-weight="bold" fill="#f0802c" stroke="#f0802c" stroke-width="0.12" font-family="'Liberation Serif',serif">IbPLA IIω</text>
<text x="46.2" y="501.97" font-size="4.45" font-weight="bold" fill="#f0802c" stroke="#f0802c" stroke-width="0.12" font-family="'Liberation Serif',serif">IbPLA IIγ</text>
<text x="46.2" y="511.06" font-size="4.45" font-weight="bold" fill="#f0802c" stroke="#f0802c" stroke-width="0.12" font-family="'Liberation Serif',serif">IbPLA IIβ</text>
<text x="46.2" y="520.14" font-size="4.45" font-weight="bold" fill="#f0802c" stroke="#f0802c" stroke-width="0.12" font-family="'Liberation Serif',serif">IbPLA IIε</text>
<text x="46.2" y="529.23" font-size="4.45" font-weight="bold" fill="#f0802c" stroke="#f0802c" stroke-width="0.12" font-family="'Liberation Serif',serif">IbPLA IIδ</text>
<text x="46.2" y="538.32" font-size="4.45" font-weight="bold" fill="#f0802c" stroke="#f0802c" stroke-width="0.12" font-family="'Liberation Serif',serif">IbPLA IIκ</text>
<text x="46.2" y="547.41" font-size="4.45" font-weight="bold" fill="#f0802c" stroke="#f0802c" stroke-width="0.12" font-family="'Liberation Serif',serif">IbPLA IIξ</text>
<text x="46.2" y="556.49" font-size="4.45" font-weight="bold" fill="#f0802c" stroke="#f0802c" stroke-width="0.12" font-family="'Liberation Serif',serif">IbPLA IIφ</text>
<text x="46.2" y="565.58" font-size="4.45" font-weight="bold" fill="#f0802c" stroke="#f0802c" stroke-width="0.12" font-family="'Liberation Serif',serif">IbPLA IIπ</text>
<text x="46.2" y="574.67" font-size="4.45" font-weight="bold" fill="#1fae7c" stroke="#1fae7c" stroke-width="0.12" font-family="'Liberation Serif',serif">AtpPLA IIγ</text>
<text x="46.2" y="583.75" font-size="4.45" font-weight="bold" fill="#1fae7c" stroke="#1fae7c" stroke-width="0.12" font-family="'Liberation Serif',serif">AtpPLA IIβ</text>
<text x="46.2" y="592.84" font-size="4.45" font-weight="bold" fill="#1fae7c" stroke="#1fae7c" stroke-width="0.12" font-family="'Liberation Serif',serif">AtpPLA IIδ</text>
<text x="46.2" y="601.93" font-size="4.45" font-weight="bold" fill="#1fae7c" stroke="#1fae7c" stroke-width="0.12" font-family="'Liberation Serif',serif">AtpPLA IIε</text>
<text x="46.2" y="611.01" font-size="4.45" font-weight="bold" fill="#f0802c" stroke="#f0802c" stroke-width="0.12" font-family="'Liberation Serif',serif">IbPLA IIρ</text>
<text x="46.2" y="620.1" font-size="4.45" font-weight="bold" fill="#f0802c" stroke="#f0802c" stroke-width="0.12" font-family="'Liberation Serif',serif">IbPLA IIλ</text>
<text x="46.2" y="629.19" font-size="4.45" font-weight="bold" fill="#1fae7c" stroke="#1fae7c" stroke-width="0.12" font-family="'Liberation Serif',serif">AtpPLA IIα</text>
<text x="46.2" y="638.27" font-size="4.45" font-weight="bold" fill="#f0802c" stroke="#f0802c" stroke-width="0.12" font-family="'Liberation Serif',serif">IbPLA IIα</text>
<text x="46.2" y="647.36" font-size="4.45" font-weight="bold" fill="#7a68c8" stroke="#7a68c8" stroke-width="0.12" textLength="12.7" lengthAdjust="spacingAndGlyphs" font-family="'Liberation Serif',serif">TaMTL</text>
<text x="46.2" y="656.45" font-size="4.45" font-weight="bold" fill="#ee1a8c" stroke="#ee1a8c" stroke-width="0.12" textLength="13.8" lengthAdjust="spacingAndGlyphs" font-family="'Liberation Serif',serif">OsMTL</text>
<text x="46.2" y="665.54" font-size="4.45" font-weight="bold" fill="#6cbb36" stroke="#6cbb36" stroke-width="0.12" textLength="12.3" lengthAdjust="spacingAndGlyphs" font-family="'Liberation Serif',serif">SiMTL</text>
<text x="46.2" y="674.62" font-size="4.45" font-weight="bold" fill="#e6b61e" stroke="#e6b61e" stroke-width="0.12" textLength="36.8" lengthAdjust="spacingAndGlyphs" font-family="'Liberation Serif',serif">MTL/ZmPLA1/NLD</text>
<text x="46.2" y="683.71" font-size="4.45" font-weight="bold" fill="#b07434" stroke="#b07434" stroke-width="0.12" textLength="12.7" lengthAdjust="spacingAndGlyphs" font-family="'Liberation Serif',serif">SbMTL</text>
<rect x="88.2" y="405.5" width="6.4" height="45.3" fill="#f6a8a3"/>
<rect x="88.2" y="450.8" width="6.4" height="235.9" fill="#a9c9e8"/>
<text transform="translate(89.9 417.9) rotate(90)" font-size="5.3" font-weight="bold" textLength="21.2" lengthAdjust="spacingAndGlyphs" fill="#111" font-family="'Liberation Serif',serif">pPLA III</text>
<text transform="translate(90.0 562.0) rotate(90)" font-size="5.0" font-weight="bold" textLength="13.2" lengthAdjust="spacingAndGlyphs" fill="#111" font-family="'Liberation Serif',serif">PLAII</text>
<line x1="100.1" y1="409.5" x2="281.3" y2="409.5" stroke="#7c7c7c" stroke-width="0.55"/>
<rect class="b" x="176.1" y="406.4" width="3.4" height="6.6" fill="url(#n1)"/>
<rect class="b" x="200.7" y="406.4" width="3.4" height="6.6" fill="url(#n2)"/>
<rect class="b" x="206.4" y="406.4" width="1" height="6.6" fill="url(#n13)"/>
<g class="nb"><text x="177.8" y="410.11">1</text><text x="202.4" y="410.11">2</text><text x="206.9" y="410.11">13</text></g>
<line x1="100.1" y1="418.67" x2="151" y2="418.67" stroke="#7c7c7c" stroke-width="0.55"/>
<rect class="b" x="102" y="415.56" width="1" height="6.6" fill="url(#n13)"/>
<rect class="b" x="103.9" y="415.56" width="3.8" height="6.6" fill="url(#n4)"/>
<rect class="b" x="107.7" y="415.56" width="4.5" height="6.6" fill="url(#n1)"/>
<rect class="b" x="112.2" y="415.56" width="3.8" height="6.6" fill="url(#n5)"/>
<rect class="b" x="121.1" y="415.56" width="3.4" height="6.6" fill="url(#n11)"/>
<rect class="b" x="125.3" y="415.56" width="3.8" height="6.6" fill="url(#n2)"/>
<rect class="b" x="129.1" y="415.56" width="2.8" height="6.6" fill="url(#n6)"/>
<rect class="b" x="131.9" y="415.56" width="3.6" height="6.6" fill="url(#n16)"/>
<rect class="b" x="138" y="415.56" width="3.8" height="6.6" fill="url(#n8)"/>
<rect class="b" x="142.3" y="415.56" width="6.8" height="6.6" fill="url(#n15)"/>
<g class="nb"><text x="102.5" y="419.28">13</text><text x="105.8" y="419.28">4</text><text x="109.95" y="419.28">1</text><text x="114.1" y="419.28">5</text><text x="122.8" y="419.28">11</text><text x="127.2" y="419.28">2</text><text x="130.5" y="419.28">6</text><text x="133.7" y="419.28">16</text><text x="139.9" y="419.28">8</text><text x="145.7" y="419.28">15</text></g>
<line x1="100.1" y1="427.83" x2="167.2" y2="427.83" stroke="#7c7c7c" stroke-width="0.55"/>
<rect class="b" x="107.5" y="424.73" width="1" height="6.6" fill="url(#n13)"/>
<rect class="b" x="114.3" y="424.73" width="4.2" height="6.6" fill="url(#n4)"/>
<rect class="b" x="118.5" y="424.73" width="4.2" height="6.6" fill="url(#n1)"/>
<rect class="b" x="122.7" y="424.73" width="3.9" height="6.6" fill="url(#n5)"/>
<rect class="b" x="131.9" y="424.73" width="3.6" height="6.6" fill="url(#n11)"/>
<rect class="b" x="136" y="424.73" width="3.8" height="6.6" fill="url(#n2)"/>
<rect class="b" x="139.8" y="424.73" width="2.9" height="6.6" fill="url(#n6)"/>
<rect class="b" x="142.7" y="424.73" width="3.8" height="6.6" fill="url(#n16)"/>
<rect class="b" x="147.2" y="424.73" width="6.1" height="6.6" fill="url(#n14)"/>
<rect class="b" x="156.5" y="424.73" width="6.4" height="6.6" fill="url(#n15)"/>
<g class="nb"><text x="108" y="428.44">13</text><text x="116.4" y="428.44">4</text><text x="120.6" y="428.44">1</text><text x="124.65" y="428.44">5</text><text x="133.7" y="428.44">11</text><text x="137.9" y="428.44">2</text><text x="141.25" y="428.44">6</text><text x="144.6" y="428.44">16</text><text x="150.25" y="428.44">14</text><text x="159.7" y="428.44">15</text></g>
<line x1="100.1" y1="437" x2="171.6" y2="437" stroke="#7c7c7c" stroke-width="0.55"/>
<rect class="b" x="109.4" y="433.89" width="1" height="6.6" fill="url(#n13)"/>
<rect class="b" x="116" y="433.89" width="4.2" height="6.6" fill="url(#n4)"/>
<rect class="b" x="120.2" y="433.89" width="4.1" height="6.6" fill="url(#n1)"/>
<rect class="b" x="124.3" y="433.89" width="4" height="6.6" fill="url(#n5)"/>
<rect class="b" x="135.1" y="433.89" width="3.2" height="6.6" fill="url(#n11)"/>
<rect class="b" x="139.3" y="433.89" width="3.8" height="6.6" fill="url(#n2)"/>
<rect class="b" x="143.1" y="433.89" width="2.8" height="6.6" fill="url(#n6)"/>
<rect class="b" x="145.9" y="433.89" width="3.8" height="6.6" fill="url(#n16)"/>
<rect class="b" x="150.4" y="433.89" width="6.3" height="6.6" fill="url(#n14)"/>
<rect class="b" x="159.9" y="433.89" width="6.4" height="6.6" fill="url(#n15)"/>
<g class="nb"><text x="109.9" y="437.61">13</text><text x="118.1" y="437.61">4</text><text x="122.25" y="437.61">1</text><text x="126.3" y="437.61">5</text><text x="136.7" y="437.61">11</text><text x="141.2" y="437.61">2</text><text x="144.5" y="437.61">6</text><text x="147.8" y="437.61">16</text><text x="153.55" y="437.61">14</text><text x="163.1" y="437.61">15</text></g>
<line x1="100.1" y1="446.16" x2="166.3" y2="446.16" stroke="#7c7c7c" stroke-width="0.55"/>
<rect class="b" x="109.4" y="443.06" width="1" height="6.6" fill="url(#n13)"/>
<rect class="b" x="113.5" y="443.06" width="4.2" height="6.6" fill="url(#n4)"/>
<rect class="b" x="117.7" y="443.06" width="3.8" height="6.6" fill="url(#n1)"/>
<rect class="b" x="121.5" y="443.06" width="4" height="6.6" fill="url(#n5)"/>
<rect class="b" x="130.4" y="443.06" width="3.2" height="6.6" fill="url(#n11)"/>
<rect class="b" x="134.2" y="443.06" width="4.1" height="6.6" fill="url(#n2)"/>
<rect class="b" x="138.3" y="443.06" width="2.8" height="6.6" fill="url(#n6)"/>
<rect class="b" x="141.1" y="443.06" width="3.8" height="6.6" fill="url(#n16)"/>
<rect class="b" x="145.3" y="443.06" width="6.3" height="6.6" fill="url(#n14)"/>
<rect class="b" x="154.5" y="443.06" width="6.6" height="6.6" fill="url(#n15)"/>
<g class="nb"><text x="109.9" y="446.77">13</text><text x="115.6" y="446.77">4</text><text x="119.6" y="446.77">1</text><text x="123.5" y="446.77">5</text><text x="132" y="446.77">11</text><text x="136.25" y="446.77">2</text><text x="139.7" y="446.77">6</text><text x="143" y="446.77">16</text><text x="148.45" y="446.77">14</text><text x="157.8" y="446.77">15</text></g>
<line x1="100.1" y1="455.32" x2="152.5" y2="455.32" stroke="#7c7c7c" stroke-width="0.55"/>
<rect class="b" x="102.9" y="452.22" width="4.2" height="6.6" fill="url(#n4)"/>
<rect class="b" x="107.1" y="452.22" width="3.8" height="6.6" fill="url(#n1)"/>
<rect class="b" x="110.9" y="452.22" width="4.2" height="6.6" fill="url(#n5)"/>
<rect class="b" x="116" y="452.22" width="5.1" height="6.6" fill="url(#n3)"/>
<rect class="b" x="121.1" y="452.22" width="1.2" height="6.6" fill="url(#n13)"/>
<rect class="b" x="123.6" y="452.22" width="3.5" height="6.6" fill="url(#n2)"/>
<rect class="b" x="127.8" y="452.22" width="2.8" height="6.6" fill="url(#n6)"/>
<rect class="b" x="130.6" y="452.22" width="4.1" height="6.6" fill="url(#n19)"/>
<rect class="b" x="134.7" y="452.22" width="3.6" height="6.6" fill="url(#n9)"/>
<rect class="b" x="139.5" y="452.22" width="3.9" height="6.6" fill="url(#n8)"/>
<rect class="b" x="144" y="452.22" width="4.2" height="6.6" fill="url(#n7)"/>
<rect class="b" x="148.5" y="452.22" width="3.5" height="6.6" fill="url(#n20)"/>
<g class="nb"><text x="105" y="455.94">4</text><text x="109" y="455.94">1</text><text x="113" y="455.94">5</text><text x="118.55" y="455.94">3</text><text x="121.7" y="455.94">13</text><text x="125.35" y="455.94">2</text><text x="129.2" y="455.94">6</text><text x="132.65" y="455.94">19</text><text x="136.5" y="455.94">9</text><text x="141.45" y="455.94">8</text><text x="146.1" y="455.94">7</text><text x="150.25" y="455.94">20</text></g>
<line x1="100.1" y1="464.49" x2="146" y2="464.49" stroke="#7c7c7c" stroke-width="0.55"/>
<rect class="b" x="102.9" y="461.39" width="4.2" height="6.6" fill="url(#n4)"/>
<rect class="b" x="107.1" y="461.39" width="3.8" height="6.6" fill="url(#n1)"/>
<rect class="b" x="116.4" y="461.39" width="3.4" height="6.6" fill="url(#n2)"/>
<rect class="b" x="121.1" y="461.39" width="2.5" height="6.6" fill="url(#n6)"/>
<rect class="b" x="123.6" y="461.39" width="4.2" height="6.6" fill="url(#n19)"/>
<rect class="b" x="127.8" y="461.39" width="3.5" height="6.6" fill="url(#n9)"/>
<rect class="b" x="132.5" y="461.39" width="3.9" height="6.6" fill="url(#n8)"/>
<rect class="b" x="137" y="461.39" width="4.5" height="6.6" fill="url(#n7)"/>
<rect class="b" x="141.5" y="461.39" width="3.4" height="6.6" fill="url(#n20)"/>
<g class="nb"><text x="105" y="465.1">4</text><text x="109" y="465.1">1</text><text x="118.1" y="465.1">2</text><text x="122.35" y="465.1">6</text><text x="125.7" y="465.1">19</text><text x="129.55" y="465.1">9</text><text x="134.45" y="465.1">8</text><text x="139.25" y="465.1">7</text><text x="143.2" y="465.1">20</text></g>
<line x1="100.1" y1="473.65" x2="154.8" y2="473.65" stroke="#7c7c7c" stroke-width="0.55"/>
<rect class="b" x="101.4" y="470.55" width="4" height="6.6" fill="url(#n4)"/>
<rect class="b" x="105.4" y="470.55" width="3.9" height="6.6" fill="url(#n1)"/>
<rect class="b" x="109.3" y="470.55" width="4.2" height="6.6" fill="url(#n5)"/>
<rect class="b" x="123.6" y="470.55" width="3.5" height="6.6" fill="url(#n2)"/>
<rect class="b" x="128.1" y="470.55" width="2.9" height="6.6" fill="url(#n6)"/>
<rect class="b" x="131" y="470.55" width="3.7" height="6.6" fill="url(#n18)"/>
<rect class="b" x="134.7" y="470.55" width="3.6" height="6.6" fill="url(#n9)"/>
<rect class="b" x="138.3" y="470.55" width="4" height="6.6" fill="url(#n8)"/>
<rect class="b" x="143.1" y="470.55" width="4.3" height="6.6" fill="url(#n7)"/>
<rect class="b" x="148.2" y="470.55" width="4.7" height="6.6" fill="url(#n10)"/>
<g class="nb"><text x="103.4" y="474.27">4</text><text x="107.35" y="474.27">1</text><text x="111.4" y="474.27">5</text><text x="125.35" y="474.27">2</text><text x="129.55" y="474.27">6</text><text x="132.85" y="474.27">18</text><text x="136.5" y="474.27">9</text><text x="140.3" y="474.27">8</text><text x="145.25" y="474.27">7</text><text x="150.55" y="474.27">10</text></g>
<line x1="100.1" y1="482.82" x2="153.5" y2="482.82" stroke="#7c7c7c" stroke-width="0.55"/>
<rect class="b" x="101.4" y="479.72" width="4" height="6.6" fill="url(#n4)"/>
<rect class="b" x="105.4" y="479.72" width="3.9" height="6.6" fill="url(#n1)"/>
<rect class="b" x="109.3" y="479.72" width="4.2" height="6.6" fill="url(#n5)"/>
<rect class="b" x="116" y="479.72" width="5.1" height="6.6" fill="url(#n3)"/>
<rect class="b" x="121.1" y="479.72" width="1.2" height="6.6" fill="url(#n13)"/>
<rect class="b" x="124.9" y="479.72" width="3.8" height="6.6" fill="url(#n2)"/>
<rect class="b" x="129.4" y="479.72" width="2.8" height="6.6" fill="url(#n6)"/>
<rect class="b" x="136" y="479.72" width="3.5" height="6.6" fill="url(#n9)"/>
<rect class="b" x="139.5" y="479.72" width="4.1" height="6.6" fill="url(#n8)"/>
<rect class="b" x="144.2" y="479.72" width="4.3" height="6.6" fill="url(#n7)"/>
<rect class="b" x="148.5" y="479.72" width="4.4" height="6.6" fill="url(#n20)"/>
<g class="nb"><text x="103.4" y="483.43">4</text><text x="107.35" y="483.43">1</text><text x="111.4" y="483.43">5</text><text x="118.55" y="483.43">3</text><text x="121.7" y="483.43">13</text><text x="126.8" y="483.43">2</text><text x="130.8" y="483.43">6</text><text x="137.75" y="483.43">9</text><text x="141.55" y="483.43">8</text><text x="146.35" y="483.43">7</text><text x="150.7" y="483.43">20</text></g>
<line x1="100.1" y1="491.99" x2="155" y2="491.99" stroke="#7c7c7c" stroke-width="0.55"/>
<rect class="b" x="101.4" y="488.88" width="4" height="6.6" fill="url(#n4)"/>
<rect class="b" x="105.4" y="488.88" width="3.9" height="6.6" fill="url(#n1)"/>
<rect class="b" x="109.3" y="488.88" width="4.2" height="6.6" fill="url(#n5)"/>
<rect class="b" x="116" y="488.88" width="5.1" height="6.6" fill="url(#n3)"/>
<rect class="b" x="121.1" y="488.88" width="1.2" height="6.6" fill="url(#n13)"/>
<rect class="b" x="123.6" y="488.88" width="3.5" height="6.6" fill="url(#n2)"/>
<rect class="b" x="128.1" y="488.88" width="3.2" height="6.6" fill="url(#n6)"/>
<rect class="b" x="136" y="488.88" width="3.5" height="6.6" fill="url(#n9)"/>
<rect class="b" x="139.5" y="488.88" width="4.1" height="6.6" fill="url(#n8)"/>
<rect class="b" x="144.3" y="488.88" width="4.8" height="6.6" fill="url(#n7)"/>
<rect class="b" x="149.1" y="488.88" width="5.1" height="6.6" fill="url(#n10)"/>
<g class="nb"><text x="103.4" y="492.6">4</text><text x="107.35" y="492.6">1</text><text x="111.4" y="492.6">5</text><text x="118.55" y="492.6">3</text><text x="121.7" y="492.6">13</text><text x="125.35" y="492.6">2</text><text x="129.7" y="492.6">6</text><text x="137.75" y="492.6">9</text><text x="141.55" y="492.6">8</text><text x="146.7" y="492.6">7</text><text x="151.65" y="492.6">10</text></g>
<line x1="100.1" y1="501.15" x2="153.5" y2="501.15" stroke="#7c7c7c" stroke-width="0.55"/>
<rect class="b" x="100.3" y="498.05" width="1.3" height="6.6" fill="url(#n17)"/>
<rect class="b" x="105.2" y="498.05" width="4.1" height="6.6" fill="url(#n4)"/>
<rect class="b" x="109.3" y="498.05" width="3.8" height="6.6" fill="url(#n1)"/>
<rect class="b" x="113.1" y="498.05" width="3.8" height="6.6" fill="url(#n5)"/>
<rect class="b" x="119.2" y="498.05" width="4.4" height="6.6" fill="url(#n3)"/>
<rect class="b" x="123.6" y="498.05" width="1.2" height="6.6" fill="url(#n13)"/>
<rect class="b" x="126.2" y="498.05" width="3.4" height="6.6" fill="url(#n2)"/>
<rect class="b" x="130.4" y="498.05" width="2.8" height="6.6" fill="url(#n6)"/>
<rect class="b" x="133.8" y="498.05" width="3.5" height="6.6" fill="url(#n9)"/>
<rect class="b" x="137.3" y="498.05" width="4.2" height="6.6" fill="url(#n8)"/>
<rect class="b" x="142.1" y="498.05" width="4.4" height="6.6" fill="url(#n7)"/>
<rect class="b" x="147.2" y="498.05" width="4.8" height="6.6" fill="url(#n10)"/>
<g class="nb"><text x="100.95" y="501.76">17</text><text x="107.25" y="501.76">4</text><text x="111.2" y="501.76">1</text><text x="115" y="501.76">5</text><text x="121.4" y="501.76">3</text><text x="124.2" y="501.76">13</text><text x="127.9" y="501.76">2</text><text x="131.8" y="501.76">6</text><text x="135.55" y="501.76">9</text><text x="139.4" y="501.76">8</text><text x="144.3" y="501.76">7</text><text x="149.6" y="501.76">10</text></g>
<line x1="100.1" y1="510.31" x2="169" y2="510.31" stroke="#7c7c7c" stroke-width="0.55"/>
<rect class="b" x="100.3" y="507.21" width="1.3" height="6.6" fill="url(#n17)"/>
<rect class="b" x="105.2" y="507.21" width="4.1" height="6.6" fill="url(#n4)"/>
<rect class="b" x="109.3" y="507.21" width="3.8" height="6.6" fill="url(#n1)"/>
<rect class="b" x="113.1" y="507.21" width="3.8" height="6.6" fill="url(#n5)"/>
<rect class="b" x="119.2" y="507.21" width="4.4" height="6.6" fill="url(#n3)"/>
<rect class="b" x="123.6" y="507.21" width="1.2" height="6.6" fill="url(#n13)"/>
<rect class="b" x="126.6" y="507.21" width="3.4" height="6.6" fill="url(#n2)"/>
<rect class="b" x="131" y="507.21" width="2.6" height="6.6" fill="url(#n6)"/>
<rect class="b" x="138.3" y="507.21" width="3.5" height="6.6" fill="url(#n9)"/>
<rect class="b" x="141.8" y="507.21" width="4.1" height="6.6" fill="url(#n8)"/>
<rect class="b" x="146.5" y="507.21" width="4.5" height="6.6" fill="url(#n7)"/>
<rect class="b" x="151.6" y="507.21" width="5.1" height="6.6" fill="url(#n10)"/>
<g class="nb"><text x="100.95" y="510.93">17</text><text x="107.25" y="510.93">4</text><text x="111.2" y="510.93">1</text><text x="115" y="510.93">5</text><text x="121.4" y="510.93">3</text><text x="124.2" y="510.93">13</text><text x="128.3" y="510.93">2</text><text x="132.3" y="510.93">6</text><text x="140.05" y="510.93">9</text><text x="143.85" y="510.93">8</text><text x="148.75" y="510.93">7</text><text x="154.15" y="510.93">10</text></g>
<line x1="100.1" y1="519.48" x2="156" y2="519.48" stroke="#7c7c7c" stroke-width="0.55"/>
<rect class="b" x="100.3" y="516.38" width="1.3" height="6.6" fill="url(#n17)"/>
<rect class="b" x="103.3" y="516.38" width="4.2" height="6.6" fill="url(#n4)"/>
<rect class="b" x="107.5" y="516.38" width="3.8" height="6.6" fill="url(#n1)"/>
<rect class="b" x="111.3" y="516.38" width="4.1" height="6.6" fill="url(#n5)"/>
<rect class="b" x="117.3" y="516.38" width="4.7" height="6.6" fill="url(#n3)"/>
<rect class="b" x="122" y="516.38" width="1.2" height="6.6" fill="url(#n13)"/>
<rect class="b" x="124.5" y="516.38" width="3.6" height="6.6" fill="url(#n2)"/>
<rect class="b" x="128.7" y="516.38" width="3" height="6.6" fill="url(#n6)"/>
<rect class="b" x="136.4" y="516.38" width="3.4" height="6.6" fill="url(#n9)"/>
<rect class="b" x="139.8" y="516.38" width="4.2" height="6.6" fill="url(#n8)"/>
<rect class="b" x="144.6" y="516.38" width="4.5" height="6.6" fill="url(#n7)"/>
<rect class="b" x="149.7" y="516.38" width="5.1" height="6.6" fill="url(#n10)"/>
<g class="nb"><text x="100.95" y="520.09">17</text><text x="105.4" y="520.09">4</text><text x="109.4" y="520.09">1</text><text x="113.35" y="520.09">5</text><text x="119.65" y="520.09">3</text><text x="122.6" y="520.09">13</text><text x="126.3" y="520.09">2</text><text x="130.2" y="520.09">6</text><text x="138.1" y="520.09">9</text><text x="141.9" y="520.09">8</text><text x="146.85" y="520.09">7</text><text x="152.25" y="520.09">10</text></g>
<line x1="100.1" y1="528.64" x2="144" y2="528.64" stroke="#7c7c7c" stroke-width="0.55"/>
<rect class="b" x="100.3" y="525.54" width="1.3" height="6.6" fill="url(#n17)"/>
<rect class="b" x="103.9" y="525.54" width="4.1" height="6.6" fill="url(#n4)"/>
<rect class="b" x="108" y="525.54" width="3.8" height="6.6" fill="url(#n1)"/>
<rect class="b" x="111.8" y="525.54" width="3.8" height="6.6" fill="url(#n5)"/>
<rect class="b" x="121.5" y="525.54" width="3.8" height="6.6" fill="url(#n2)"/>
<rect class="b" x="125.9" y="525.54" width="2.8" height="6.6" fill="url(#n6)"/>
<rect class="b" x="132.5" y="525.54" width="4.5" height="6.6" fill="url(#n7)"/>
<rect class="b" x="137.6" y="525.54" width="5.1" height="6.6" fill="url(#n10)"/>
<g class="nb"><text x="100.95" y="529.26">17</text><text x="105.95" y="529.26">4</text><text x="109.9" y="529.26">1</text><text x="113.7" y="529.26">5</text><text x="123.4" y="529.26">2</text><text x="127.3" y="529.26">6</text><text x="134.75" y="529.26">7</text><text x="140.15" y="529.26">10</text></g>
<line x1="100.1" y1="537.81" x2="151.5" y2="537.81" stroke="#7c7c7c" stroke-width="0.55"/>
<rect class="b" x="100.3" y="534.71" width="3" height="6.6" fill="url(#n18)"/>
<rect class="b" x="103.3" y="534.71" width="3.8" height="6.6" fill="url(#n4)"/>
<rect class="b" x="107.1" y="534.71" width="3.4" height="6.6" fill="url(#n1)"/>
<rect class="b" x="110.5" y="534.71" width="3.8" height="6.6" fill="url(#n5)"/>
<rect class="b" x="116.6" y="534.71" width="4.9" height="6.6" fill="url(#n3)"/>
<rect class="b" x="121.5" y="534.71" width="1.2" height="6.6" fill="url(#n13)"/>
<rect class="b" x="124" y="534.71" width="3.8" height="6.6" fill="url(#n2)"/>
<rect class="b" x="128.3" y="534.71" width="3" height="6.6" fill="url(#n6)"/>
<rect class="b" x="131.3" y="534.71" width="3.4" height="6.6" fill="url(#n11)"/>
<rect class="b" x="134.7" y="534.71" width="3.6" height="6.6" fill="url(#n9)"/>
<rect class="b" x="140.2" y="534.71" width="4.7" height="6.6" fill="url(#n7)"/>
<rect class="b" x="145.7" y="534.71" width="4.7" height="6.6" fill="url(#n10)"/>
<g class="nb"><text x="101.8" y="538.42">18</text><text x="105.2" y="538.42">4</text><text x="108.8" y="538.42">1</text><text x="112.4" y="538.42">5</text><text x="119.05" y="538.42">3</text><text x="122.1" y="538.42">13</text><text x="125.9" y="538.42">2</text><text x="129.8" y="538.42">6</text><text x="133" y="538.42">11</text><text x="136.5" y="538.42">9</text><text x="142.55" y="538.42">7</text><text x="148.05" y="538.42">10</text></g>
<line x1="100.1" y1="546.98" x2="144" y2="546.98" stroke="#7c7c7c" stroke-width="0.55"/>
<rect class="b" x="100.3" y="543.88" width="3" height="6.6" fill="url(#n18)"/>
<rect class="b" x="103.3" y="543.88" width="3.8" height="6.6" fill="url(#n4)"/>
<rect class="b" x="107.1" y="543.88" width="3.4" height="6.6" fill="url(#n1)"/>
<rect class="b" x="110.5" y="543.88" width="3.8" height="6.6" fill="url(#n5)"/>
<rect class="b" x="116.6" y="543.88" width="4.9" height="6.6" fill="url(#n3)"/>
<rect class="b" x="121.5" y="543.88" width="1.2" height="6.6" fill="url(#n13)"/>
<rect class="b" x="124" y="543.88" width="3.8" height="6.6" fill="url(#n2)"/>
<rect class="b" x="128.3" y="543.88" width="3" height="6.6" fill="url(#n6)"/>
<rect class="b" x="131.3" y="543.88" width="3.4" height="6.6" fill="url(#n11)"/>
<rect class="b" x="134.7" y="543.88" width="3.6" height="6.6" fill="url(#n9)"/>
<g class="nb"><text x="101.8" y="547.59">18</text><text x="105.2" y="547.59">4</text><text x="108.8" y="547.59">1</text><text x="112.4" y="547.59">5</text><text x="119.05" y="547.59">3</text><text x="122.1" y="547.59">13</text><text x="125.9" y="547.59">2</text><text x="129.8" y="547.59">6</text><text x="133" y="547.59">11</text><text x="136.5" y="547.59">9</text></g>
<line x1="100.1" y1="556.14" x2="155.5" y2="556.14" stroke="#7c7c7c" stroke-width="0.55"/>
<rect class="b" x="100.3" y="553.04" width="3" height="6.6" fill="url(#n18)"/>
<rect class="b" x="103.3" y="553.04" width="3.8" height="6.6" fill="url(#n4)"/>
<rect class="b" x="107.1" y="553.04" width="3.4" height="6.6" fill="url(#n1)"/>
<rect class="b" x="110.5" y="553.04" width="3.8" height="6.6" fill="url(#n5)"/>
<rect class="b" x="116.6" y="553.04" width="4.9" height="6.6" fill="url(#n3)"/>
<rect class="b" x="121.5" y="553.04" width="1.2" height="6.6" fill="url(#n13)"/>
<rect class="b" x="124" y="553.04" width="3.8" height="6.6" fill="url(#n2)"/>
<rect class="b" x="128.3" y="553.04" width="3" height="6.6" fill="url(#n6)"/>
<rect class="b" x="131.3" y="553.04" width="3.4" height="6.6" fill="url(#n11)"/>
<rect class="b" x="134.7" y="553.04" width="3.6" height="6.6" fill="url(#n9)"/>
<rect class="b" x="138.9" y="553.04" width="4.2" height="6.6" fill="url(#n8)"/>
<rect class="b" x="144" y="553.04" width="4.2" height="6.6" fill="url(#n7)"/>
<rect class="b" x="148.7" y="553.04" width="4.8" height="6.6" fill="url(#n10)"/>
<g class="nb"><text x="101.8" y="556.75">18</text><text x="105.2" y="556.75">4</text><text x="108.8" y="556.75">1</text><text x="112.4" y="556.75">5</text><text x="119.05" y="556.75">3</text><text x="122.1" y="556.75">13</text><text x="125.9" y="556.75">2</text><text x="129.8" y="556.75">6</text><text x="133" y="556.75">11</text><text x="136.5" y="556.75">9</text><text x="141" y="556.75">8</text><text x="146.1" y="556.75">7</text><text x="151.1" y="556.75">10</text></g>
<line x1="100.1" y1="565.3" x2="155.5" y2="565.3" stroke="#7c7c7c" stroke-width="0.55"/>
<rect class="b" x="100.3" y="562.2" width="3" height="6.6" fill="url(#n18)"/>
<rect class="b" x="103.3" y="562.2" width="3.8" height="6.6" fill="url(#n4)"/>
<rect class="b" x="107.1" y="562.2" width="3.4" height="6.6" fill="url(#n1)"/>
<rect class="b" x="110.5" y="562.2" width="3.8" height="6.6" fill="url(#n5)"/>
<rect class="b" x="116.6" y="562.2" width="4.9" height="6.6" fill="url(#n3)"/>
<rect class="b" x="121.5" y="562.2" width="1.2" height="6.6" fill="url(#n13)"/>
<rect class="b" x="124" y="562.2" width="3.8" height="6.6" fill="url(#n2)"/>
<rect class="b" x="128.3" y="562.2" width="3" height="6.6" fill="url(#n6)"/>
<rect class="b" x="131.3" y="562.2" width="3.4" height="6.6" fill="url(#n11)"/>
<rect class="b" x="134.7" y="562.2" width="3.6" height="6.6" fill="url(#n9)"/>
<rect class="b" x="138.9" y="562.2" width="4.2" height="6.6" fill="url(#n8)"/>
<rect class="b" x="144" y="562.2" width="4.2" height="6.6" fill="url(#n7)"/>
<rect class="b" x="148.7" y="562.2" width="4.8" height="6.6" fill="url(#n10)"/>
<g class="nb"><text x="101.8" y="565.92">18</text><text x="105.2" y="565.92">4</text><text x="108.8" y="565.92">1</text><text x="112.4" y="565.92">5</text><text x="119.05" y="565.92">3</text><text x="122.1" y="565.92">13</text><text x="125.9" y="565.92">2</text><text x="129.8" y="565.92">6</text><text x="133" y="565.92">11</text><text x="136.5" y="565.92">9</text><text x="141" y="565.92">8</text><text x="146.1" y="565.92">7</text><text x="151.1" y="565.92">10</text></g>
<line x1="100.1" y1="574.47" x2="158.5" y2="574.47" stroke="#7c7c7c" stroke-width="0.55"/>
<rect class="b" x="104.9" y="571.37" width="3.8" height="6.6" fill="url(#n4)"/>
<rect class="b" x="108.7" y="571.37" width="3.5" height="6.6" fill="url(#n1)"/>
<rect class="b" x="113.8" y="571.37" width="3.5" height="6.6" fill="url(#n5)"/>
<rect class="b" x="119.8" y="571.37" width="5.1" height="6.6" fill="url(#n3)"/>
<rect class="b" x="124.9" y="571.37" width="1.2" height="6.6" fill="url(#n13)"/>
<rect class="b" x="127.5" y="571.37" width="3.4" height="6.6" fill="url(#n2)"/>
<rect class="b" x="131.9" y="571.37" width="2.8" height="6.6" fill="url(#n6)"/>
<rect class="b" x="134.7" y="571.37" width="3.3" height="6.6" fill="url(#n11)"/>
<rect class="b" x="138" y="571.37" width="3.8" height="6.6" fill="url(#n9)"/>
<rect class="b" x="141.8" y="571.37" width="4.1" height="6.6" fill="url(#n8)"/>
<rect class="b" x="146.5" y="571.37" width="4.5" height="6.6" fill="url(#n7)"/>
<rect class="b" x="151.6" y="571.37" width="4.7" height="6.6" fill="url(#n10)"/>
<g class="nb"><text x="106.8" y="575.08">4</text><text x="110.45" y="575.08">1</text><text x="115.55" y="575.08">5</text><text x="122.35" y="575.08">3</text><text x="125.5" y="575.08">13</text><text x="129.2" y="575.08">2</text><text x="133.3" y="575.08">6</text><text x="136.35" y="575.08">11</text><text x="139.9" y="575.08">9</text><text x="143.85" y="575.08">8</text><text x="148.75" y="575.08">7</text><text x="153.95" y="575.08">10</text></g>
<line x1="100.1" y1="583.63" x2="163" y2="583.63" stroke="#7c7c7c" stroke-width="0.55"/>
<rect class="b" x="108.7" y="580.53" width="2.2" height="6.6" fill="url(#n18)"/>
<rect class="b" x="110.9" y="580.53" width="3.8" height="6.6" fill="url(#n4)"/>
<rect class="b" x="114.7" y="580.53" width="3.8" height="6.6" fill="url(#n1)"/>
<rect class="b" x="118.5" y="580.53" width="4.2" height="6.6" fill="url(#n5)"/>
<rect class="b" x="124.9" y="580.53" width="5.1" height="6.6" fill="url(#n3)"/>
<rect class="b" x="130" y="580.53" width="1.2" height="6.6" fill="url(#n13)"/>
<rect class="b" x="132.5" y="580.53" width="3.5" height="6.6" fill="url(#n2)"/>
<rect class="b" x="136.7" y="580.53" width="2.8" height="6.6" fill="url(#n6)"/>
<rect class="b" x="139.5" y="580.53" width="3.2" height="6.6" fill="url(#n11)"/>
<rect class="b" x="142.7" y="580.53" width="3.8" height="6.6" fill="url(#n9)"/>
<rect class="b" x="146.5" y="580.53" width="4.2" height="6.6" fill="url(#n8)"/>
<rect class="b" x="151.6" y="580.53" width="4.5" height="6.6" fill="url(#n7)"/>
<rect class="b" x="156.7" y="580.53" width="5.1" height="6.6" fill="url(#n10)"/>
<g class="nb"><text x="109.8" y="584.25">18</text><text x="112.8" y="584.25">4</text><text x="116.6" y="584.25">1</text><text x="120.6" y="584.25">5</text><text x="127.45" y="584.25">3</text><text x="130.6" y="584.25">13</text><text x="134.25" y="584.25">2</text><text x="138.1" y="584.25">6</text><text x="141.1" y="584.25">11</text><text x="144.6" y="584.25">9</text><text x="148.6" y="584.25">8</text><text x="153.85" y="584.25">7</text><text x="159.25" y="584.25">10</text></g>
<line x1="100.1" y1="592.8" x2="160" y2="592.8" stroke="#7c7c7c" stroke-width="0.55"/>
<rect class="b" x="100.3" y="589.7" width="2.7" height="6.6" fill="url(#n18)"/>
<rect class="b" x="103" y="589.7" width="3.5" height="6.6" fill="url(#n4)"/>
<rect class="b" x="110.9" y="589.7" width="3.8" height="6.6" fill="url(#n1)"/>
<rect class="b" x="114.7" y="589.7" width="3.8" height="6.6" fill="url(#n5)"/>
<rect class="b" x="121.1" y="589.7" width="4.7" height="6.6" fill="url(#n3)"/>
<rect class="b" x="125.8" y="589.7" width="1.2" height="6.6" fill="url(#n13)"/>
<rect class="b" x="128.3" y="589.7" width="3.6" height="6.6" fill="url(#n2)"/>
<rect class="b" x="132.9" y="589.7" width="2.8" height="6.6" fill="url(#n6)"/>
<rect class="b" x="135.7" y="589.7" width="3.2" height="6.6" fill="url(#n11)"/>
<rect class="b" x="138.9" y="589.7" width="3.8" height="6.6" fill="url(#n9)"/>
<rect class="b" x="142.7" y="589.7" width="4.2" height="6.6" fill="url(#n8)"/>
<rect class="b" x="147.8" y="589.7" width="4.2" height="6.6" fill="url(#n7)"/>
<rect class="b" x="152.5" y="589.7" width="5.1" height="6.6" fill="url(#n10)"/>
<g class="nb"><text x="101.65" y="593.41">18</text><text x="104.75" y="593.41">4</text><text x="112.8" y="593.41">1</text><text x="116.6" y="593.41">5</text><text x="123.45" y="593.41">3</text><text x="126.4" y="593.41">13</text><text x="130.1" y="593.41">2</text><text x="134.3" y="593.41">6</text><text x="137.3" y="593.41">11</text><text x="140.8" y="593.41">9</text><text x="144.8" y="593.41">8</text><text x="149.9" y="593.41">7</text><text x="155.05" y="593.41">10</text></g>
<line x1="100.1" y1="601.96" x2="156" y2="601.96" stroke="#7c7c7c" stroke-width="0.55"/>
<rect class="b" x="100.3" y="598.86" width="3" height="6.6" fill="url(#n18)"/>
<rect class="b" x="103.3" y="598.86" width="3.8" height="6.6" fill="url(#n4)"/>
<rect class="b" x="107.1" y="598.86" width="3.4" height="6.6" fill="url(#n1)"/>
<rect class="b" x="110.5" y="598.86" width="3.8" height="6.6" fill="url(#n5)"/>
<rect class="b" x="116.6" y="598.86" width="4.9" height="6.6" fill="url(#n3)"/>
<rect class="b" x="121.5" y="598.86" width="1.2" height="6.6" fill="url(#n13)"/>
<rect class="b" x="124" y="598.86" width="3.8" height="6.6" fill="url(#n2)"/>
<rect class="b" x="128.3" y="598.86" width="3" height="6.6" fill="url(#n6)"/>
<rect class="b" x="131.3" y="598.86" width="3.4" height="6.6" fill="url(#n11)"/>
<rect class="b" x="134.7" y="598.86" width="3.6" height="6.6" fill="url(#n9)"/>
<rect class="b" x="138.3" y="598.86" width="4.4" height="6.6" fill="url(#n8)"/>
<rect class="b" x="143.4" y="598.86" width="4.2" height="6.6" fill="url(#n7)"/>
<rect class="b" x="148.2" y="598.86" width="4.8" height="6.6" fill="url(#n10)"/>
<g class="nb"><text x="101.8" y="602.58">18</text><text x="105.2" y="602.58">4</text><text x="108.8" y="602.58">1</text><text x="112.4" y="602.58">5</text><text x="119.05" y="602.58">3</text><text x="122.1" y="602.58">13</text><text x="125.9" y="602.58">2</text><text x="129.8" y="602.58">6</text><text x="133" y="602.58">11</text><text x="136.5" y="602.58">9</text><text x="140.5" y="602.58">8</text><text x="145.5" y="602.58">7</text><text x="150.6" y="602.58">10</text></g>
<line x1="100.1" y1="611.13" x2="140.2" y2="611.13" stroke="#7c7c7c" stroke-width="0.55"/>
<rect class="b" x="100.3" y="608.03" width="3.9" height="6.6" fill="url(#n2)"/>
<rect class="b" x="105.8" y="608.03" width="2.6" height="6.6" fill="url(#n6)"/>
<rect class="b" x="108.4" y="608.03" width="3.4" height="6.6" fill="url(#n11)"/>
<rect class="b" x="111.8" y="608.03" width="3.8" height="6.6" fill="url(#n9)"/>
<rect class="b" x="115.6" y="608.03" width="4.2" height="6.6" fill="url(#n8)"/>
<rect class="b" x="121.1" y="608.03" width="4.2" height="6.6" fill="url(#n7)"/>
<rect class="b" x="126.2" y="608.03" width="4.7" height="6.6" fill="url(#n10)"/>
<g class="nb"><text x="102.25" y="611.74">2</text><text x="107.1" y="611.74">6</text><text x="110.1" y="611.74">11</text><text x="113.7" y="611.74">9</text><text x="117.7" y="611.74">8</text><text x="123.2" y="611.74">7</text><text x="128.55" y="611.74">10</text></g>
<line x1="100.1" y1="620.29" x2="264.8" y2="620.29" stroke="#7c7c7c" stroke-width="0.55"/>
<rect class="b" x="107.5" y="617.19" width="3.8" height="6.6" fill="url(#n1)"/>
<rect class="b" x="111.3" y="617.19" width="4.1" height="6.6" fill="url(#n5)"/>
<rect class="b" x="117.9" y="617.19" width="4.8" height="6.6" fill="url(#n3)"/>
<rect class="b" x="122.7" y="617.19" width="1.2" height="6.6" fill="url(#n13)"/>
<rect class="b" x="125.3" y="617.19" width="3.4" height="6.6" fill="url(#n2)"/>
<rect class="b" x="129.6" y="617.19" width="2.9" height="6.6" fill="url(#n6)"/>
<rect class="b" x="132.5" y="617.19" width="3.5" height="6.6" fill="url(#n11)"/>
<rect class="b" x="136" y="617.19" width="3.8" height="6.6" fill="url(#n9)"/>
<rect class="b" x="139.8" y="617.19" width="4.2" height="6.6" fill="url(#n8)"/>
<rect class="b" x="144.6" y="617.19" width="4.5" height="6.6" fill="url(#n7)"/>
<rect class="b" x="149.5" y="617.19" width="3.8" height="6.6" fill="url(#n20)"/>
<rect class="b" x="158.3" y="617.19" width="3.8" height="6.6" fill="url(#n1)"/>
<rect class="b" x="162.1" y="617.19" width="3.8" height="6.6" fill="url(#n5)"/>
<rect class="b" x="168.1" y="617.19" width="4.8" height="6.6" fill="url(#n3)"/>
<rect class="b" x="172.9" y="617.19" width="1.2" height="6.6" fill="url(#n13)"/>
<rect class="b" x="175.5" y="617.19" width="3.8" height="6.6" fill="url(#n2)"/>
<rect class="b" x="180.5" y="617.19" width="2.8" height="6.6" fill="url(#n6)"/>
<rect class="b" x="183.3" y="617.19" width="3.6" height="6.6" fill="url(#n11)"/>
<rect class="b" x="186.9" y="617.19" width="3.8" height="6.6" fill="url(#n9)"/>
<rect class="b" x="190.7" y="617.19" width="3.8" height="6.6" fill="url(#n8)"/>
<rect class="b" x="195.6" y="617.19" width="4.3" height="6.6" fill="url(#n7)"/>
<rect class="b" x="199.9" y="617.19" width="4.2" height="6.6" fill="url(#n20)"/>
<rect class="b" x="209.1" y="617.19" width="3.8" height="6.6" fill="url(#n4)"/>
<rect class="b" x="212.9" y="617.19" width="3.8" height="6.6" fill="url(#n1)"/>
<rect class="b" x="216.7" y="617.19" width="4.2" height="6.6" fill="url(#n5)"/>
<rect class="b" x="223.1" y="617.19" width="5.4" height="6.6" fill="url(#n3)"/>
<rect class="b" x="232" y="617.19" width="3.8" height="6.6" fill="url(#n2)"/>
<rect class="b" x="236.8" y="617.19" width="2.8" height="6.6" fill="url(#n6)"/>
<rect class="b" x="239.6" y="617.19" width="3.6" height="6.6" fill="url(#n11)"/>
<rect class="b" x="243.2" y="617.19" width="4.1" height="6.6" fill="url(#n9)"/>
<rect class="b" x="247.3" y="617.19" width="3.8" height="6.6" fill="url(#n8)"/>
<rect class="b" x="252.1" y="617.19" width="4.4" height="6.6" fill="url(#n7)"/>
<rect class="b" x="257.2" y="617.19" width="4.8" height="6.6" fill="url(#n10)"/>
<g class="nb"><text x="109.4" y="620.91">1</text><text x="113.35" y="620.91">5</text><text x="120.3" y="620.91">3</text><text x="123.3" y="620.91">13</text><text x="127" y="620.91">2</text><text x="131.05" y="620.91">6</text><text x="134.25" y="620.91">11</text><text x="137.9" y="620.91">9</text><text x="141.9" y="620.91">8</text><text x="146.85" y="620.91">7</text><text x="151.4" y="620.91">20</text><text x="160.2" y="620.91">1</text><text x="164" y="620.91">5</text><text x="170.5" y="620.91">3</text><text x="173.5" y="620.91">13</text><text x="177.4" y="620.91">2</text><text x="181.9" y="620.91">6</text><text x="185.1" y="620.91">11</text><text x="188.8" y="620.91">9</text><text x="192.6" y="620.91">8</text><text x="197.75" y="620.91">7</text><text x="202" y="620.91">20</text><text x="211" y="620.91">4</text><text x="214.8" y="620.91">1</text><text x="218.8" y="620.91">5</text><text x="225.8" y="620.91">3</text><text x="233.9" y="620.91">2</text><text x="238.2" y="620.91">6</text><text x="241.4" y="620.91">11</text><text x="245.25" y="620.91">9</text><text x="249.2" y="620.91">8</text><text x="254.3" y="620.91">7</text><text x="259.6" y="620.91">10</text></g>
<line x1="100.1" y1="629.46" x2="156" y2="629.46" stroke="#7c7c7c" stroke-width="0.55"/>
<rect class="b" x="100.3" y="626.36" width="3" height="6.6" fill="url(#n18)"/>
<rect class="b" x="103.3" y="626.36" width="3.8" height="6.6" fill="url(#n4)"/>
<rect class="b" x="107.1" y="626.36" width="3.4" height="6.6" fill="url(#n1)"/>
<rect class="b" x="110.5" y="626.36" width="3.8" height="6.6" fill="url(#n5)"/>
<rect class="b" x="116.6" y="626.36" width="4.9" height="6.6" fill="url(#n3)"/>
<rect class="b" x="121.5" y="626.36" width="1.2" height="6.6" fill="url(#n13)"/>
<rect class="b" x="124" y="626.36" width="3.8" height="6.6" fill="url(#n2)"/>
<rect class="b" x="128.3" y="626.36" width="3" height="6.6" fill="url(#n6)"/>
<rect class="b" x="131.3" y="626.36" width="3.4" height="6.6" fill="url(#n11)"/>
<rect class="b" x="134.7" y="626.36" width="3.6" height="6.6" fill="url(#n9)"/>
<rect class="b" x="138.3" y="626.36" width="4.4" height="6.6" fill="url(#n8)"/>
<rect class="b" x="143.4" y="626.36" width="4.2" height="6.6" fill="url(#n7)"/>
<rect class="b" x="147.8" y="626.36" width="3.8" height="6.6" fill="url(#n20)"/>
<g class="nb"><text x="101.8" y="630.07">18</text><text x="105.2" y="630.07">4</text><text x="108.8" y="630.07">1</text><text x="112.4" y="630.07">5</text><text x="119.05" y="630.07">3</text><text x="122.1" y="630.07">13</text><text x="125.9" y="630.07">2</text><text x="129.8" y="630.07">6</text><text x="133" y="630.07">11</text><text x="136.5" y="630.07">9</text><text x="140.5" y="630.07">8</text><text x="145.5" y="630.07">7</text><text x="149.7" y="630.07">20</text></g>
<line x1="100.1" y1="638.62" x2="156.5" y2="638.62" stroke="#7c7c7c" stroke-width="0.55"/>
<rect class="b" x="104.9" y="635.52" width="3.8" height="6.6" fill="url(#n4)"/>
<rect class="b" x="108.7" y="635.52" width="3.9" height="6.6" fill="url(#n1)"/>
<rect class="b" x="112.6" y="635.52" width="3.8" height="6.6" fill="url(#n5)"/>
<rect class="b" x="118.5" y="635.52" width="4.8" height="6.6" fill="url(#n3)"/>
<rect class="b" x="123.3" y="635.52" width="1.2" height="6.6" fill="url(#n13)"/>
<rect class="b" x="125.5" y="635.52" width="3.6" height="6.6" fill="url(#n2)"/>
<rect class="b" x="130" y="635.52" width="2.9" height="6.6" fill="url(#n6)"/>
<rect class="b" x="132.9" y="635.52" width="3.5" height="6.6" fill="url(#n11)"/>
<rect class="b" x="136.4" y="635.52" width="3.8" height="6.6" fill="url(#n9)"/>
<rect class="b" x="140.2" y="635.52" width="4.2" height="6.6" fill="url(#n8)"/>
<rect class="b" x="144.9" y="635.52" width="4.6" height="6.6" fill="url(#n7)"/>
<rect class="b" x="150" y="635.52" width="5.1" height="6.6" fill="url(#n10)"/>
<g class="nb"><text x="106.8" y="639.24">4</text><text x="110.65" y="639.24">1</text><text x="114.5" y="639.24">5</text><text x="120.9" y="639.24">3</text><text x="123.9" y="639.24">13</text><text x="127.3" y="639.24">2</text><text x="131.45" y="639.24">6</text><text x="134.65" y="639.24">11</text><text x="138.3" y="639.24">9</text><text x="142.3" y="639.24">8</text><text x="147.2" y="639.24">7</text><text x="152.55" y="639.24">10</text></g>
<line x1="100.1" y1="647.79" x2="157" y2="647.79" stroke="#7c7c7c" stroke-width="0.55"/>
<rect class="b" x="100.3" y="644.69" width="3.7" height="6.6" fill="url(#n12)"/>
<rect class="b" x="104" y="644.69" width="4.2" height="6.6" fill="url(#n4)"/>
<rect class="b" x="108.4" y="644.69" width="3.8" height="6.6" fill="url(#n1)"/>
<rect class="b" x="112.2" y="644.69" width="4.2" height="6.6" fill="url(#n5)"/>
<rect class="b" x="118.5" y="644.69" width="4.8" height="6.6" fill="url(#n3)"/>
<rect class="b" x="123.3" y="644.69" width="1.2" height="6.6" fill="url(#n13)"/>
<rect class="b" x="125.5" y="644.69" width="3.6" height="6.6" fill="url(#n2)"/>
<rect class="b" x="130" y="644.69" width="2.9" height="6.6" fill="url(#n6)"/>
<rect class="b" x="132.9" y="644.69" width="3.5" height="6.6" fill="url(#n11)"/>
<rect class="b" x="136.4" y="644.69" width="3.8" height="6.6" fill="url(#n9)"/>
<rect class="b" x="140.2" y="644.69" width="4.2" height="6.6" fill="url(#n8)"/>
<rect class="b" x="144.9" y="644.69" width="4.6" height="6.6" fill="url(#n7)"/>
<rect class="b" x="150" y="644.69" width="5.1" height="6.6" fill="url(#n10)"/>
<g class="nb"><text x="102.15" y="648.4">12</text><text x="106.1" y="648.4">4</text><text x="110.3" y="648.4">1</text><text x="114.3" y="648.4">5</text><text x="120.9" y="648.4">3</text><text x="123.9" y="648.4">13</text><text x="127.3" y="648.4">2</text><text x="131.45" y="648.4">6</text><text x="134.65" y="648.4">11</text><text x="138.3" y="648.4">9</text><text x="142.3" y="648.4">8</text><text x="147.2" y="648.4">7</text><text x="152.55" y="648.4">10</text></g>
<line x1="100.1" y1="656.95" x2="157" y2="656.95" stroke="#7c7c7c" stroke-width="0.55"/>
<rect class="b" x="100.3" y="653.85" width="3.7" height="6.6" fill="url(#n12)"/>
<rect class="b" x="104" y="653.85" width="4.2" height="6.6" fill="url(#n4)"/>
<rect class="b" x="108.4" y="653.85" width="3.8" height="6.6" fill="url(#n1)"/>
<rect class="b" x="112.2" y="653.85" width="4.2" height="6.6" fill="url(#n5)"/>
<rect class="b" x="118.5" y="653.85" width="4.8" height="6.6" fill="url(#n3)"/>
<rect class="b" x="123.3" y="653.85" width="1.2" height="6.6" fill="url(#n13)"/>
<rect class="b" x="125.5" y="653.85" width="3.6" height="6.6" fill="url(#n2)"/>
<rect class="b" x="130" y="653.85" width="2.9" height="6.6" fill="url(#n6)"/>
<rect class="b" x="132.9" y="653.85" width="3.5" height="6.6" fill="url(#n11)"/>
<rect class="b" x="136.4" y="653.85" width="3.8" height="6.6" fill="url(#n9)"/>
<rect class="b" x="140.2" y="653.85" width="4.2" height="6.6" fill="url(#n8)"/>
<rect class="b" x="144.9" y="653.85" width="4.6" height="6.6" fill="url(#n7)"/>
<rect class="b" x="150" y="653.85" width="5.1" height="6.6" fill="url(#n10)"/>
<g class="nb"><text x="102.15" y="657.57">12</text><text x="106.1" y="657.57">4</text><text x="110.3" y="657.57">1</text><text x="114.3" y="657.57">5</text><text x="120.9" y="657.57">3</text><text x="123.9" y="657.57">13</text><text x="127.3" y="657.57">2</text><text x="131.45" y="657.57">6</text><text x="134.65" y="657.57">11</text><text x="138.3" y="657.57">9</text><text x="142.3" y="657.57">8</text><text x="147.2" y="657.57">7</text><text x="152.55" y="657.57">10</text></g>
<line x1="100.1" y1="666.12" x2="157" y2="666.12" stroke="#7c7c7c" stroke-width="0.55"/>
<rect class="b" x="100.3" y="663.02" width="3.7" height="6.6" fill="url(#n12)"/>
<rect class="b" x="104" y="663.02" width="4.2" height="6.6" fill="url(#n4)"/>
<rect class="b" x="108.4" y="663.02" width="3.8" height="6.6" fill="url(#n1)"/>
<rect class="b" x="112.2" y="663.02" width="4.2" height="6.6" fill="url(#n5)"/>
<rect class="b" x="118.5" y="663.02" width="4.8" height="6.6" fill="url(#n3)"/>
<rect class="b" x="123.3" y="663.02" width="1.2" height="6.6" fill="url(#n13)"/>
<rect class="b" x="125.5" y="663.02" width="3.6" height="6.6" fill="url(#n2)"/>
<rect class="b" x="130" y="663.02" width="2.9" height="6.6" fill="url(#n6)"/>
<rect class="b" x="132.9" y="663.02" width="3.5" height="6.6" fill="url(#n11)"/>
<rect class="b" x="136.4" y="663.02" width="3.8" height="6.6" fill="url(#n9)"/>
<rect class="b" x="140.2" y="663.02" width="4.2" height="6.6" fill="url(#n8)"/>
<rect class="b" x="149.1" y="663.02" width="5.6" height="6.6" fill="url(#n10)"/>
<g class="nb"><text x="102.15" y="666.73">12</text><text x="106.1" y="666.73">4</text><text x="110.3" y="666.73">1</text><text x="114.3" y="666.73">5</text><text x="120.9" y="666.73">3</text><text x="123.9" y="666.73">13</text><text x="127.3" y="666.73">2</text><text x="131.45" y="666.73">6</text><text x="134.65" y="666.73">11</text><text x="138.3" y="666.73">9</text><text x="142.3" y="666.73">8</text><text x="151.9" y="666.73">10</text></g>
<line x1="100.1" y1="675.28" x2="157" y2="675.28" stroke="#7c7c7c" stroke-width="0.55"/>
<rect class="b" x="100.3" y="672.18" width="3.7" height="6.6" fill="url(#n12)"/>
<rect class="b" x="104" y="672.18" width="4.2" height="6.6" fill="url(#n4)"/>
<rect class="b" x="108.4" y="672.18" width="3.8" height="6.6" fill="url(#n1)"/>
<rect class="b" x="112.2" y="672.18" width="4.2" height="6.6" fill="url(#n5)"/>
<rect class="b" x="118.5" y="672.18" width="4.8" height="6.6" fill="url(#n3)"/>
<rect class="b" x="123.3" y="672.18" width="1.2" height="6.6" fill="url(#n13)"/>
<rect class="b" x="125.5" y="672.18" width="3.6" height="6.6" fill="url(#n2)"/>
<rect class="b" x="130" y="672.18" width="2.9" height="6.6" fill="url(#n6)"/>
<rect class="b" x="132.9" y="672.18" width="3.5" height="6.6" fill="url(#n11)"/>
<rect class="b" x="136.4" y="672.18" width="3.8" height="6.6" fill="url(#n9)"/>
<rect class="b" x="140.2" y="672.18" width="4.2" height="6.6" fill="url(#n8)"/>
<rect class="b" x="144.9" y="672.18" width="4.6" height="6.6" fill="url(#n7)"/>
<rect class="b" x="150" y="672.18" width="5.1" height="6.6" fill="url(#n10)"/>
<g class="nb"><text x="102.15" y="675.9">12</text><text x="106.1" y="675.9">4</text><text x="110.3" y="675.9">1</text><text x="114.3" y="675.9">5</text><text x="120.9" y="675.9">3</text><text x="123.9" y="675.9">13</text><text x="127.3" y="675.9">2</text><text x="131.45" y="675.9">6</text><text x="134.65" y="675.9">11</text><text x="138.3" y="675.9">9</text><text x="142.3" y="675.9">8</text><text x="147.2" y="675.9">7</text><text x="152.55" y="675.9">10</text></g>
<line x1="100.1" y1="684.45" x2="157" y2="684.45" stroke="#7c7c7c" stroke-width="0.55"/>
<rect class="b" x="100.3" y="681.35" width="3.7" height="6.6" fill="url(#n12)"/>
<rect class="b" x="104" y="681.35" width="4.2" height="6.6" fill="url(#n4)"/>
<rect class="b" x="108.4" y="681.35" width="3.8" height="6.6" fill="url(#n1)"/>
<rect class="b" x="112.2" y="681.35" width="4.2" height="6.6" fill="url(#n5)"/>
<rect class="b" x="118.5" y="681.35" width="4.8" height="6.6" fill="url(#n3)"/>
<rect class="b" x="123.3" y="681.35" width="1.2" height="6.6" fill="url(#n13)"/>
<rect class="b" x="125.5" y="681.35" width="3.6" height="6.6" fill="url(#n2)"/>
<rect class="b" x="130" y="681.35" width="2.9" height="6.6" fill="url(#n6)"/>
<rect class="b" x="132.9" y="681.35" width="3.5" height="6.6" fill="url(#n11)"/>
<rect class="b" x="136.4" y="681.35" width="3.8" height="6.6" fill="url(#n9)"/>
<rect class="b" x="140.2" y="681.35" width="4.2" height="6.6" fill="url(#n8)"/>
<rect class="b" x="144.9" y="681.35" width="4.6" height="6.6" fill="url(#n7)"/>
<rect class="b" x="150" y="681.35" width="5.1" height="6.6" fill="url(#n10)"/>
<g class="nb"><text x="102.15" y="685.06">12</text><text x="106.1" y="685.06">4</text><text x="110.3" y="685.06">1</text><text x="114.3" y="685.06">5</text><text x="120.9" y="685.06">3</text><text x="123.9" y="685.06">13</text><text x="127.3" y="685.06">2</text><text x="131.45" y="685.06">6</text><text x="134.65" y="685.06">11</text><text x="138.3" y="685.06">9</text><text x="142.3" y="685.06">8</text><text x="147.2" y="685.06">7</text><text x="152.55" y="685.06">10</text></g>
<line x1="100.1" y1="693.8" x2="288.4" y2="693.8" stroke="#8a8a8a" stroke-width="0.55"/>
<g class="ax" font-size="4.6">
<line x1="100.1" y1="693.8" x2="100.1" y2="696" stroke="#8a8a8a" stroke-width="0.55"/>
<text x="100.1" y="700.5" text-anchor="middle">0</text>
<line x1="127" y1="693.8" x2="127" y2="696" stroke="#8a8a8a" stroke-width="0.55"/>
<text x="127" y="700.5" text-anchor="middle">200</text>
<line x1="153.9" y1="693.8" x2="153.9" y2="696" stroke="#8a8a8a" stroke-width="0.55"/>
<text x="153.9" y="700.5" text-anchor="middle">400</text>
<line x1="180.8" y1="693.8" x2="180.8" y2="696" stroke="#8a8a8a" stroke-width="0.55"/>
<text x="180.8" y="700.5" text-anchor="middle">600</text>
<line x1="207.7" y1="693.8" x2="207.7" y2="696" stroke="#8a8a8a" stroke-width="0.55"/>
<text x="207.7" y="700.5" text-anchor="middle">800</text>
<line x1="234.6" y1="693.8" x2="234.6" y2="696" stroke="#8a8a8a" stroke-width="0.55"/>
<text x="234.6" y="700.5" text-anchor="middle">1000</text>
<line x1="261.5" y1="693.8" x2="261.5" y2="696" stroke="#8a8a8a" stroke-width="0.55"/>
<text x="261.5" y="700.5" text-anchor="middle">1200</text>
<line x1="288.4" y1="693.8" x2="288.4" y2="696" stroke="#8a8a8a" stroke-width="0.55"/>
<text x="288.4" y="700.5" text-anchor="middle">1400</text>
<text x="99.7" y="694.4" text-anchor="end">5'</text>
<text x="289.7" y="694.4">3'</text>
</g>
<rect x="303.4" y="406.45" width="26" height="6.3" fill="url(#dgray)" stroke="#bdbdbd" stroke-width="0.3"/>
<rect x="329.4" y="406.45" width="20" height="6.3" fill="url(#dyellow)" stroke="#bdbdbd" stroke-width="0.3"/>
<rect x="349.4" y="406.45" width="6.6" height="6.3" fill="url(#dgray)" stroke="#bdbdbd" stroke-width="0.3"/>
<rect x="356" y="406.45" width="6" height="6.3" fill="url(#dteal)" stroke="#bdbdbd" stroke-width="0.3"/>
<rect x="362" y="406.45" width="9" height="6.3" fill="url(#dgray)" stroke="#bdbdbd" stroke-width="0.3"/>
<rect x="371" y="406.45" width="11.4" height="6.3" fill="url(#dpink)" stroke="#bdbdbd" stroke-width="0.3"/>
<rect x="382.4" y="406.45" width="52.6" height="6.3" fill="url(#dgreen)" stroke="#bdbdbd" stroke-width="0.3"/>
<rect x="435" y="406.45" width="68.2" height="6.3" fill="url(#dgray)" stroke="#bdbdbd" stroke-width="0.3"/>
<rect x="303.4" y="415.64" width="4.6" height="6.3" fill="url(#dgray)" stroke="#bdbdbd" stroke-width="0.3"/>
<rect x="308" y="415.64" width="45" height="6.3" fill="url(#dred)" stroke="#bdbdbd" stroke-width="0.3"/>
<rect x="353" y="415.64" width="7" height="6.3" fill="url(#dgray)" stroke="#bdbdbd" stroke-width="0.3"/>
<rect x="303.4" y="424.82" width="16" height="6.3" fill="url(#dgray)" stroke="#bdbdbd" stroke-width="0.3"/>
<rect x="319.4" y="424.82" width="47.6" height="6.3" fill="url(#dred)" stroke="#bdbdbd" stroke-width="0.3"/>
<rect x="367" y="424.82" width="10.4" height="6.3" fill="url(#dgray)" stroke="#bdbdbd" stroke-width="0.3"/>
<rect x="303.4" y="434.01" width="17.6" height="6.3" fill="url(#dgray)" stroke="#bdbdbd" stroke-width="0.3"/>
<rect x="321" y="434.01" width="50" height="6.3" fill="url(#dlav)" stroke="#bdbdbd" stroke-width="0.3"/>
<rect x="371" y="434.01" width="10.4" height="6.3" fill="url(#dgray)" stroke="#bdbdbd" stroke-width="0.3"/>
<rect x="303.4" y="443.2" width="14.6" height="6.3" fill="url(#dgray)" stroke="#bdbdbd" stroke-width="0.3"/>
<rect x="318" y="443.2" width="47" height="6.3" fill="url(#dred)" stroke="#bdbdbd" stroke-width="0.3"/>
<rect x="365" y="443.2" width="11" height="6.3" fill="url(#dgray)" stroke="#bdbdbd" stroke-width="0.3"/>
<rect x="303.4" y="452.39" width="2.6" height="6.3" fill="url(#dgray)" stroke="#bdbdbd" stroke-width="0.3"/>
<rect x="306" y="452.39" width="53" height="6.3" fill="url(#dlav)" stroke="#bdbdbd" stroke-width="0.3"/>
<rect x="359" y="452.39" width="2" height="6.3" fill="url(#dgray)" stroke="#bdbdbd" stroke-width="0.3"/>
<rect x="303.4" y="461.57" width="2.6" height="6.3" fill="url(#dgray)" stroke="#bdbdbd" stroke-width="0.3"/>
<rect x="306" y="461.57" width="45" height="6.3" fill="url(#dlav)" stroke="#bdbdbd" stroke-width="0.3"/>
<rect x="351" y="461.57" width="2" height="6.3" fill="url(#dgray)" stroke="#bdbdbd" stroke-width="0.3"/>
<rect x="303.4" y="470.76" width="0.8" height="6.3" fill="url(#dgray)" stroke="#bdbdbd" stroke-width="0.3"/>
<rect x="304.2" y="470.76" width="52.8" height="6.3" fill="url(#dlav)" stroke="#bdbdbd" stroke-width="0.3"/>
<rect x="357" y="470.76" width="6" height="6.3" fill="url(#dgray)" stroke="#bdbdbd" stroke-width="0.3"/>
<rect x="303.4" y="479.95" width="55.6" height="6.3" fill="url(#dlav)" stroke="#bdbdbd" stroke-width="0.3"/>
<rect x="359" y="479.95" width="2.4" height="6.3" fill="url(#dgray)" stroke="#bdbdbd" stroke-width="0.3"/>
<rect x="303.4" y="489.13" width="3.2" height="6.3" fill="url(#dgray)" stroke="#bdbdbd" stroke-width="0.3"/>
<rect x="306.6" y="489.13" width="52" height="6.3" fill="url(#dlav)" stroke="#bdbdbd" stroke-width="0.3"/>
<rect x="358.6" y="489.13" width="5" height="6.3" fill="url(#dgray)" stroke="#bdbdbd" stroke-width="0.3"/>
<rect x="303.4" y="498.32" width="4.6" height="6.3" fill="url(#dgray)" stroke="#bdbdbd" stroke-width="0.3"/>
<rect x="308" y="498.32" width="48" height="6.3" fill="url(#dlav)" stroke="#bdbdbd" stroke-width="0.3"/>
<rect x="356" y="498.32" width="5.4" height="6.3" fill="url(#dgray)" stroke="#bdbdbd" stroke-width="0.3"/>
<rect x="303.4" y="507.51" width="4.6" height="6.3" fill="url(#dgray)" stroke="#bdbdbd" stroke-width="0.3"/>
<rect x="308" y="507.51" width="53" height="6.3" fill="url(#dlav)" stroke="#bdbdbd" stroke-width="0.3"/>
<rect x="361" y="507.51" width="17.6" height="6.3" fill="url(#dgray)" stroke="#bdbdbd" stroke-width="0.3"/>
<rect x="303.4" y="516.69" width="2.6" height="6.3" fill="url(#dgray)" stroke="#bdbdbd" stroke-width="0.3"/>
<rect x="306" y="516.69" width="53" height="6.3" fill="url(#dlav)" stroke="#bdbdbd" stroke-width="0.3"/>
<rect x="359" y="516.69" width="5.4" height="6.3" fill="url(#dgray)" stroke="#bdbdbd" stroke-width="0.3"/>
<rect x="303.4" y="525.88" width="3.2" height="6.3" fill="url(#dgray)" stroke="#bdbdbd" stroke-width="0.3"/>
<rect x="306.6" y="525.88" width="39.4" height="6.3" fill="url(#dlav)" stroke="#bdbdbd" stroke-width="0.3"/>
<rect x="346" y="525.88" width="5.4" height="6.3" fill="url(#dgray)" stroke="#bdbdbd" stroke-width="0.3"/>
<rect x="303.4" y="535.07" width="1.6" height="6.3" fill="url(#dgray)" stroke="#bdbdbd" stroke-width="0.3"/>
<rect x="305" y="535.07" width="49" height="6.3" fill="url(#dlav)" stroke="#bdbdbd" stroke-width="0.3"/>
<rect x="354" y="535.07" width="5.4" height="6.3" fill="url(#dgray)" stroke="#bdbdbd" stroke-width="0.3"/>
<rect x="303.4" y="544.25" width="1.6" height="6.3" fill="url(#dgray)" stroke="#bdbdbd" stroke-width="0.3"/>
<rect x="305" y="544.25" width="41" height="6.3" fill="url(#dlav)" stroke="#bdbdbd" stroke-width="0.3"/>
<rect x="346" y="544.25" width="5.6" height="6.3" fill="url(#dgray)" stroke="#bdbdbd" stroke-width="0.3"/>
<rect x="303.4" y="553.44" width="1.6" height="6.3" fill="url(#dgray)" stroke="#bdbdbd" stroke-width="0.3"/>
<rect x="305" y="553.44" width="53" height="6.3" fill="url(#dlav)" stroke="#bdbdbd" stroke-width="0.3"/>
<rect x="358" y="553.44" width="6.4" height="6.3" fill="url(#dgray)" stroke="#bdbdbd" stroke-width="0.3"/>
<rect x="303.4" y="562.63" width="2.1" height="6.3" fill="url(#dgray)" stroke="#bdbdbd" stroke-width="0.3"/>
<rect x="305.5" y="562.63" width="52.5" height="6.3" fill="url(#dlgreen)" stroke="#bdbdbd" stroke-width="0.3"/>
<rect x="358" y="562.63" width="6" height="6.3" fill="url(#dgray)" stroke="#bdbdbd" stroke-width="0.3"/>
<rect x="303.4" y="571.82" width="4.6" height="6.3" fill="url(#dgray)" stroke="#bdbdbd" stroke-width="0.3"/>
<rect x="308" y="571.82" width="53" height="6.3" fill="url(#dlgreen)" stroke="#bdbdbd" stroke-width="0.3"/>
<rect x="361" y="571.82" width="5.6" height="6.3" fill="url(#dgray)" stroke="#bdbdbd" stroke-width="0.3"/>
<rect x="303.4" y="581" width="11.2" height="6.3" fill="url(#dgray)" stroke="#bdbdbd" stroke-width="0.3"/>
<rect x="314.6" y="581" width="51.4" height="6.3" fill="url(#dlav)" stroke="#bdbdbd" stroke-width="0.3"/>
<rect x="366" y="581" width="6.6" height="6.3" fill="url(#dgray)" stroke="#bdbdbd" stroke-width="0.3"/>
<rect x="303.4" y="590.19" width="1.6" height="6.3" fill="url(#dgray)" stroke="#bdbdbd" stroke-width="0.3"/>
<rect x="305" y="590.19" width="57" height="6.3" fill="url(#dlgreen)" stroke="#bdbdbd" stroke-width="0.3"/>
<rect x="362" y="590.19" width="7" height="6.3" fill="url(#dgray)" stroke="#bdbdbd" stroke-width="0.3"/>
<rect x="303.4" y="599.38" width="1.6" height="6.3" fill="url(#dgray)" stroke="#bdbdbd" stroke-width="0.3"/>
<rect x="305" y="599.38" width="52.4" height="6.3" fill="url(#dlgreen)" stroke="#bdbdbd" stroke-width="0.3"/>
<rect x="357.4" y="599.38" width="7.2" height="6.3" fill="url(#dgray)" stroke="#bdbdbd" stroke-width="0.3"/>
<rect x="303.4" y="608.56" width="29.2" height="6.3" fill="url(#dlav)" stroke="#bdbdbd" stroke-width="0.3"/>
<rect x="332.6" y="608.56" width="14" height="6.3" fill="url(#dgray)" stroke="#bdbdbd" stroke-width="0.3"/>
<rect x="303.4" y="617.75" width="6" height="6.3" fill="url(#dgray)" stroke="#bdbdbd" stroke-width="0.3"/>
<rect x="309.4" y="617.75" width="49.4" height="6.3" fill="url(#dlgreen)" stroke="#bdbdbd" stroke-width="0.3"/>
<rect x="358.8" y="617.75" width="7.7" height="6.3" fill="url(#dgray)" stroke="#bdbdbd" stroke-width="0.3"/>
<rect x="366.5" y="617.75" width="48.3" height="6.3" fill="url(#dlgreen)" stroke="#bdbdbd" stroke-width="0.3"/>
<rect x="414.8" y="617.75" width="8.4" height="6.3" fill="url(#dgray)" stroke="#bdbdbd" stroke-width="0.3"/>
<rect x="423.2" y="617.75" width="53.5" height="6.3" fill="url(#dlgreen)" stroke="#bdbdbd" stroke-width="0.3"/>
<rect x="476.7" y="617.75" width="8.1" height="6.3" fill="url(#dgray)" stroke="#bdbdbd" stroke-width="0.3"/>
<rect x="303.4" y="626.94" width="1.6" height="6.3" fill="url(#dgray)" stroke="#bdbdbd" stroke-width="0.3"/>
<rect x="305" y="626.94" width="52.6" height="6.3" fill="url(#dlgreen)" stroke="#bdbdbd" stroke-width="0.3"/>
<rect x="357.6" y="626.94" width="6.4" height="6.3" fill="url(#dgray)" stroke="#bdbdbd" stroke-width="0.3"/>
<rect x="303.4" y="636.12" width="5.2" height="6.3" fill="url(#dgray)" stroke="#bdbdbd" stroke-width="0.3"/>
<rect x="308.6" y="636.12" width="50.8" height="6.3" fill="url(#dlgreen)" stroke="#bdbdbd" stroke-width="0.3"/>
<rect x="359.4" y="636.12" width="5.2" height="6.3" fill="url(#dgray)" stroke="#bdbdbd" stroke-width="0.3"/>
<rect x="303.4" y="645.31" width="4.6" height="6.3" fill="url(#dgray)" stroke="#bdbdbd" stroke-width="0.3"/>
<rect x="308" y="645.31" width="51.4" height="6.3" fill="url(#dlav)" stroke="#bdbdbd" stroke-width="0.3"/>
<rect x="359.4" y="645.31" width="6" height="6.3" fill="url(#dgray)" stroke="#bdbdbd" stroke-width="0.3"/>
<rect x="303.4" y="654.5" width="4.6" height="6.3" fill="url(#dgray)" stroke="#bdbdbd" stroke-width="0.3"/>
<rect x="308" y="654.5" width="52" height="6.3" fill="url(#dlgreen)" stroke="#bdbdbd" stroke-width="0.3"/>
<rect x="360" y="654.5" width="7.4" height="6.3" fill="url(#dgray)" stroke="#bdbdbd" stroke-width="0.3"/>
<rect x="303.4" y="663.69" width="4.6" height="6.3" fill="url(#dgray)" stroke="#bdbdbd" stroke-width="0.3"/>
<rect x="308" y="663.69" width="50.6" height="6.3" fill="url(#dlgreen)" stroke="#bdbdbd" stroke-width="0.3"/>
<rect x="358.6" y="663.69" width="6.8" height="6.3" fill="url(#dgray)" stroke="#bdbdbd" stroke-width="0.3"/>
<rect x="303.4" y="672.87" width="4.6" height="6.3" fill="url(#dgray)" stroke="#bdbdbd" stroke-width="0.3"/>
<rect x="308" y="672.87" width="52" height="6.3" fill="url(#dlgreen)" stroke="#bdbdbd" stroke-width="0.3"/>
<rect x="360" y="672.87" width="6.4" height="6.3" fill="url(#dgray)" stroke="#bdbdbd" stroke-width="0.3"/>
<rect x="303.4" y="682.06" width="4.6" height="6.3" fill="url(#dgray)" stroke="#bdbdbd" stroke-width="0.3"/>
<rect x="308" y="682.06" width="52.4" height="6.3" fill="url(#dlgreen)" stroke="#bdbdbd" stroke-width="0.3"/>
<rect x="360.4" y="682.06" width="7.6" height="6.3" fill="url(#dgray)" stroke="#bdbdbd" stroke-width="0.3"/>
<line x1="303.4" y1="693.8" x2="510" y2="693.8" stroke="#8a8a8a" stroke-width="0.55"/>
<g class="ax" font-size="4.6">
<line x1="303.4" y1="693.8" x2="303.4" y2="696" stroke="#8a8a8a" stroke-width="0.55"/>
<text x="303.4" y="700.5" text-anchor="middle">0</text>
<line x1="332.91" y1="693.8" x2="332.91" y2="696" stroke="#8a8a8a" stroke-width="0.55"/>
<text x="332.91" y="700.5" text-anchor="middle">200</text>
<line x1="362.43" y1="693.8" x2="362.43" y2="696" stroke="#8a8a8a" stroke-width="0.55"/>
<text x="362.43" y="700.5" text-anchor="middle">400</text>
<line x1="391.94" y1="693.8" x2="391.94" y2="696" stroke="#8a8a8a" stroke-width="0.55"/>
<text x="391.94" y="700.5" text-anchor="middle">600</text>
<line x1="421.46" y1="693.8" x2="421.46" y2="696" stroke="#8a8a8a" stroke-width="0.55"/>
<text x="421.46" y="700.5" text-anchor="middle">800</text>
<line x1="450.97" y1="693.8" x2="450.97" y2="696" stroke="#8a8a8a" stroke-width="0.55"/>
<text x="450.97" y="700.5" text-anchor="middle">1000</text>
<line x1="480.49" y1="693.8" x2="480.49" y2="696" stroke="#8a8a8a" stroke-width="0.55"/>
<text x="480.49" y="700.5" text-anchor="middle">1200</text>
<line x1="510" y1="693.8" x2="510" y2="696" stroke="#8a8a8a" stroke-width="0.55"/>
<text x="510" y="700.5" text-anchor="middle">1400</text>
<text x="303" y="694.4" text-anchor="end">5'</text>
<text x="511.3" y="694.4">3'</text>
</g>
<rect x="469" y="423.3" width="12" height="4.2" fill="url(#l1)"/>
<text x="482.2" y="426.72" font-size="4.5" fill="#333" stroke="#333" stroke-width="0.1" font-style="italic" font-family="'Liberation Sans',sans-serif">Motif 1</text>
<rect x="469" y="429.07" width="12" height="4.2" fill="url(#l2)"/>
<text x="482.2" y="432.5" font-size="4.5" fill="#333" stroke="#333" stroke-width="0.1" font-style="italic" font-family="'Liberation Sans',sans-serif">Motif 2</text>
<rect x="469" y="434.85" width="12" height="4.2" fill="url(#l13)"/>
<text x="482.2" y="438.27" font-size="4.5" fill="#333" stroke="#333" stroke-width="0.1" font-style="italic" font-family="'Liberation Sans',sans-serif">Motif 13</text>
<rect x="469" y="440.62" width="12" height="4.2" fill="url(#l4)"/>
<text x="482.2" y="444.05" font-size="4.5" fill="#333" stroke="#333" stroke-width="0.1" font-style="italic" font-family="'Liberation Sans',sans-serif">Motif 4</text>
<rect x="469" y="446.4" width="12" height="4.2" fill="url(#l5)"/>
<text x="482.2" y="449.82" font-size="4.5" fill="#333" stroke="#333" stroke-width="0.1" font-style="italic" font-family="'Liberation Sans',sans-serif">Motif 5</text>
<rect x="469" y="452.18" width="12" height="4.2" fill="url(#l11)"/>
<text x="482.2" y="455.6" font-size="4.5" fill="#333" stroke="#333" stroke-width="0.1" font-style="italic" font-family="'Liberation Sans',sans-serif">Motif 11</text>
<rect x="469" y="457.95" width="12" height="4.2" fill="url(#l6)"/>
<text x="482.2" y="461.37" font-size="4.5" fill="#333" stroke="#333" stroke-width="0.1" font-style="italic" font-family="'Liberation Sans',sans-serif">Motif 6</text>
<rect x="469" y="463.73" width="12" height="4.2" fill="url(#l16)"/>
<text x="482.2" y="467.15" font-size="4.5" fill="#333" stroke="#333" stroke-width="0.1" font-style="italic" font-family="'Liberation Sans',sans-serif">Motif 16</text>
<rect x="469" y="469.5" width="12" height="4.2" fill="url(#l8)"/>
<text x="482.2" y="472.92" font-size="4.5" fill="#333" stroke="#333" stroke-width="0.1" font-style="italic" font-family="'Liberation Sans',sans-serif">Motif 8</text>
<rect x="469" y="475.28" width="12" height="4.2" fill="url(#l15)"/>
<text x="482.2" y="478.7" font-size="4.5" fill="#333" stroke="#333" stroke-width="0.1" font-style="italic" font-family="'Liberation Sans',sans-serif">Motif 15</text>
<rect x="469" y="481.05" width="12" height="4.2" fill="url(#l14)"/>
<text x="482.2" y="484.47" font-size="4.5" fill="#333" stroke="#333" stroke-width="0.1" font-style="italic" font-family="'Liberation Sans',sans-serif">Motif 14</text>
<rect x="469" y="486.82" width="12" height="4.2" fill="url(#l3)"/>
<text x="482.2" y="490.25" font-size="4.5" fill="#333" stroke="#333" stroke-width="0.1" font-style="italic" font-family="'Liberation Sans',sans-serif">Motif 3</text>
<rect x="469" y="492.6" width="12" height="4.2" fill="url(#l19)"/>
<text x="482.2" y="496.02" font-size="4.5" fill="#333" stroke="#333" stroke-width="0.1" font-style="italic" font-family="'Liberation Sans',sans-serif">Motif 19</text>
<rect x="469" y="498.38" width="12" height="4.2" fill="url(#l9)"/>
<text x="482.2" y="501.8" font-size="4.5" fill="#333" stroke="#333" stroke-width="0.1" font-style="italic" font-family="'Liberation Sans',sans-serif">Motif 9</text>
<rect x="469" y="504.15" width="12" height="4.2" fill="url(#l7)"/>
<text x="482.2" y="507.57" font-size="4.5" fill="#333" stroke="#333" stroke-width="0.1" font-style="italic" font-family="'Liberation Sans',sans-serif">Motif 7</text>
<rect x="469" y="509.93" width="12" height="4.2" fill="url(#l20)"/>
<text x="482.2" y="513.35" font-size="4.5" fill="#333" stroke="#333" stroke-width="0.1" font-style="italic" font-family="'Liberation Sans',sans-serif">Motif 20</text>
<rect x="469" y="515.7" width="12" height="4.2" fill="url(#l10)"/>
<text x="482.2" y="519.12" font-size="4.5" fill="#333" stroke="#333" stroke-width="0.1" font-style="italic" font-family="'Liberation Sans',sans-serif">Motif 10</text>
<rect x="469" y="521.48" width="12" height="4.2" fill="url(#l17)"/>
<text x="482.2" y="524.9" font-size="4.5" fill="#333" stroke="#333" stroke-width="0.1" font-style="italic" font-family="'Liberation Sans',sans-serif">Motif 17</text>
<rect x="469" y="527.25" width="12" height="4.2" fill="url(#l18)"/>
<text x="482.2" y="530.67" font-size="4.5" fill="#333" stroke="#333" stroke-width="0.1" font-style="italic" font-family="'Liberation Sans',sans-serif">Motif 18</text>
<rect x="469" y="533.03" width="12" height="4.2" fill="url(#l12)"/>
<text x="482.2" y="536.45" font-size="4.5" fill="#333" stroke="#333" stroke-width="0.1" font-style="italic" font-family="'Liberation Sans',sans-serif">Motif 12</text>
<rect x="469" y="548.1" width="12" height="4.2" fill="url(#l1)"/>
<text x="482.2" y="551.52" font-size="4.5" fill="#333" stroke="#333" stroke-width="0.1" font-style="italic" font-family="'Liberation Sans',sans-serif">Pat_PNPLA8</text>
<rect x="469" y="553.86" width="12" height="4.2" fill="url(#l2)"/>
<text x="482.2" y="557.28" font-size="4.5" fill="#333" stroke="#333" stroke-width="0.1" font-style="italic" font-family="'Liberation Sans',sans-serif">LRR</text>
<rect x="469" y="559.62" width="12" height="4.2" fill="url(#l3)"/>
<text x="482.2" y="563.04" font-size="4.5" fill="#333" stroke="#333" stroke-width="0.1" font-style="italic" font-family="'Liberation Sans',sans-serif">HEAT_2</text>
<rect x="469" y="565.38" width="12" height="4.2" fill="url(#l4)"/>
<text x="482.2" y="568.8" font-size="4.5" fill="#333" stroke="#333" stroke-width="0.1" font-style="italic" font-family="'Liberation Sans',sans-serif">Arm</text>
<rect x="469" y="571.14" width="12" height="4.2" fill="url(#l5)"/>
<text x="482.2" y="574.56" font-size="4.5" fill="#333" stroke="#333" stroke-width="0.1" font-style="italic" font-family="'Liberation Sans',sans-serif">Pat17_PNPLA8_PNPLA9_like</text>
<rect x="469" y="576.9" width="12" height="4.2" fill="url(#l6)"/>
<text x="482.2" y="580.32" font-size="4.5" fill="#333" stroke="#333" stroke-width="0.1" font-style="italic" font-family="'Liberation Sans',sans-serif">Patatin_and_cPLA2 superfamily</text>
<rect x="469" y="582.66" width="12" height="4.2" fill="url(#l7)"/>
<text x="482.2" y="586.08" font-size="4.5" fill="#333" stroke="#333" stroke-width="0.1" font-style="italic" font-family="'Liberation Sans',sans-serif">Pat17_isozyme_like</text>
</g>
</svg>
</body>
</html>
